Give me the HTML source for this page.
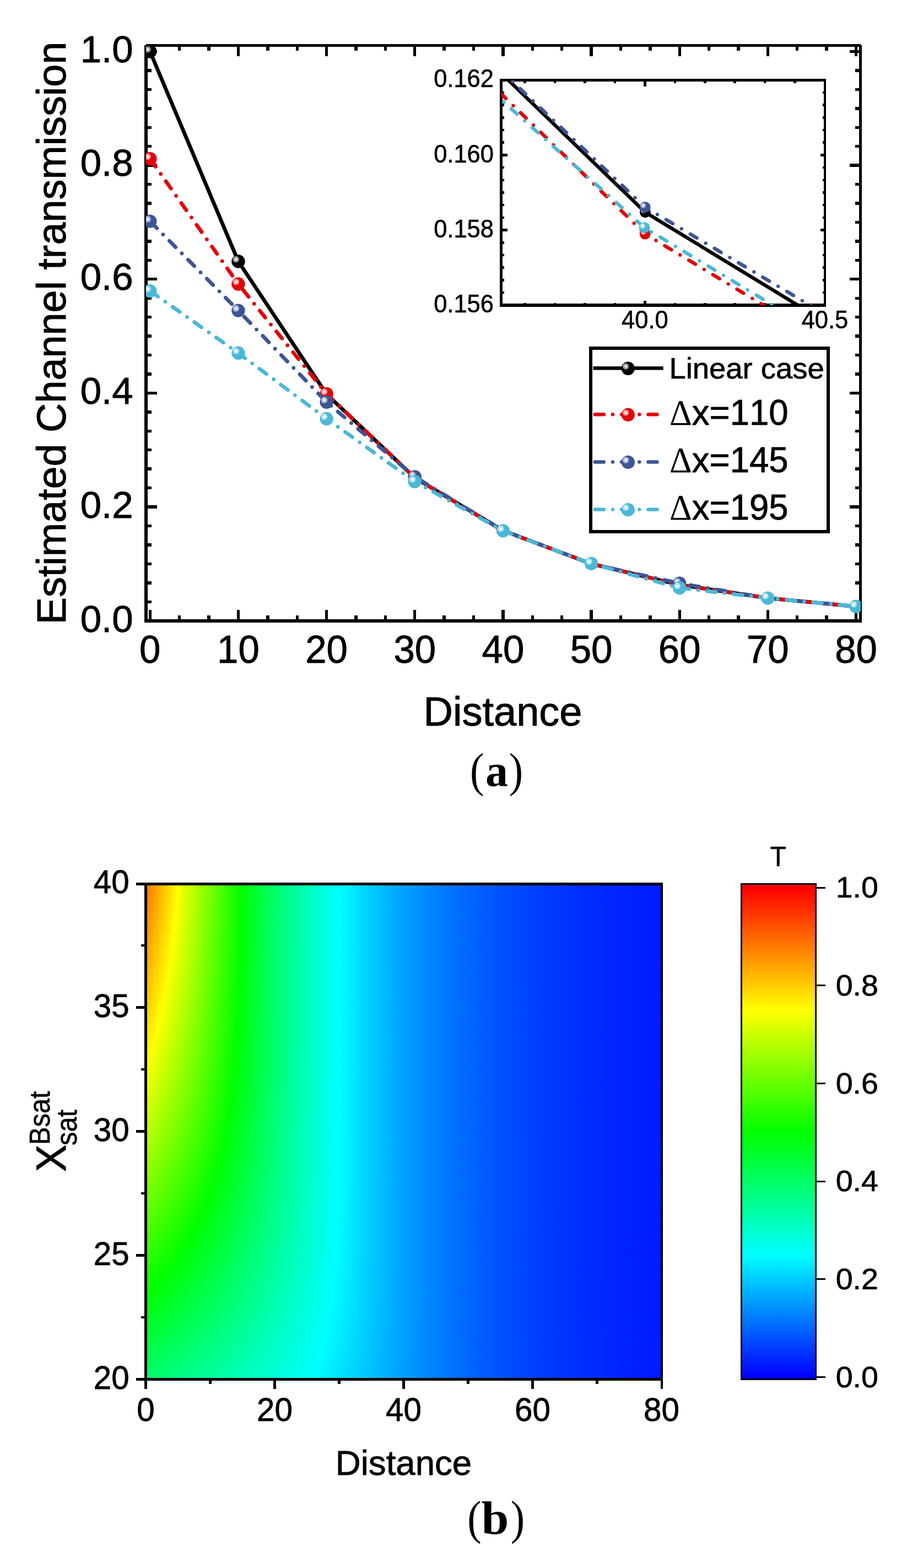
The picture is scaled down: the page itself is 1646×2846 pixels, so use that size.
<!DOCTYPE html>
<html lang="en">
<head>
<meta charset="utf-8">
<title>Estimated channel transmission</title>
<style>
html,body{margin:0;padding:0;background:#fff;}
body{width:1646px;height:2846px;overflow:hidden;}
svg{display:block;font-kerning:none;}
text{fill:#000;}
</style>
</head>
<body>
<svg width="1646" height="2846" viewBox="0 0 1646 2846">
<rect x="0" y="0" width="1646" height="2846" fill="#fff"/>
<defs>
<radialGradient id="hl0" cx="0.5" cy="0.5" r="0.5">
<stop offset="0" stop-color="#fff"/><stop offset="0.22" stop-color="#fff"/>
<stop offset="0.52" stop-color="#9e9e9e"/>
<stop offset="1" stop-color="#8f8f8f"/>
</radialGradient>
<g id="mk0"><circle r="12.2" fill="#000000"/><circle cx="-4.2" cy="-3.8" r="5.8" fill="url(#hl0)"/></g>
<g id="ms0"><circle r="10" fill="#000000"/><circle cx="-3.44" cy="-3.11" r="4.75" fill="url(#hl0)"/></g>
<radialGradient id="hl1" cx="0.5" cy="0.5" r="0.5">
<stop offset="0" stop-color="#fff"/><stop offset="0.22" stop-color="#fff"/>
<stop offset="0.52" stop-color="#f49ea1"/>
<stop offset="1" stop-color="#f38f92"/>
</radialGradient>
<g id="mk1"><circle r="12.2" fill="#e30008"/><circle cx="-4.2" cy="-3.8" r="5.8" fill="url(#hl1)"/></g>
<g id="ms1"><circle r="10" fill="#e30008"/><circle cx="-3.44" cy="-3.11" r="4.75" fill="url(#hl1)"/></g>
<radialGradient id="hl2" cx="0.5" cy="0.5" r="0.5">
<stop offset="0" stop-color="#fff"/><stop offset="0.22" stop-color="#fff"/>
<stop offset="0.52" stop-color="#b6bed7"/>
<stop offset="1" stop-color="#aab4d0"/>
</radialGradient>
<g id="mk2"><circle r="12.2" fill="#3e5595"/><circle cx="-4.2" cy="-3.8" r="5.8" fill="url(#hl2)"/></g>
<g id="ms2"><circle r="10" fill="#3e5595"/><circle cx="-3.44" cy="-3.11" r="4.75" fill="url(#hl2)"/></g>
<radialGradient id="hl3" cx="0.5" cy="0.5" r="0.5">
<stop offset="0" stop-color="#fff"/><stop offset="0.22" stop-color="#fff"/>
<stop offset="0.52" stop-color="#bbe4ef"/>
<stop offset="1" stop-color="#b0e0ed"/>
</radialGradient>
<g id="mk3"><circle r="12.2" fill="#4bb8d6"/><circle cx="-4.2" cy="-3.8" r="5.8" fill="url(#hl3)"/></g>
<g id="ms3"><circle r="10" fill="#4bb8d6"/><circle cx="-3.44" cy="-3.11" r="4.75" fill="url(#hl3)"/></g>
<clipPath id="clipA"><rect x="264.8" y="82.5" width="1297.2" height="1044.5"/></clipPath>
<clipPath id="clipI"><rect x="909.5" y="145.5" width="587.5" height="408.5"/></clipPath>
</defs>
<g id="plot-a">
<g id="axes-a" shape-rendering="crispEdges">
<rect x="262" y="82" width="6" height="1048" fill="#000"/>
<rect x="1559" y="82" width="5" height="1048" fill="#000"/>
<rect x="264.5" y="80" width="1297" height="5" fill="#000"/>
<rect x="264.5" y="1124" width="1297" height="6" fill="#000"/>
<rect x="269.6" y="1106.8" width="5.4" height="18.2" fill="#000"/>
<rect x="269.6" y="84" width="5.4" height="18.2" fill="#000"/>
<rect x="322.98" y="1117" width="5.4" height="8" fill="#000"/>
<rect x="322.98" y="84" width="5.4" height="8" fill="#000"/>
<rect x="376.37" y="1117" width="5.4" height="8" fill="#000"/>
<rect x="376.37" y="84" width="5.4" height="8" fill="#000"/>
<rect x="429.75" y="1106.8" width="5.4" height="18.2" fill="#000"/>
<rect x="429.75" y="84" width="5.4" height="18.2" fill="#000"/>
<rect x="483.13" y="1117" width="5.4" height="8" fill="#000"/>
<rect x="483.13" y="84" width="5.4" height="8" fill="#000"/>
<rect x="536.52" y="1117" width="5.4" height="8" fill="#000"/>
<rect x="536.52" y="84" width="5.4" height="8" fill="#000"/>
<rect x="589.9" y="1106.8" width="5.4" height="18.2" fill="#000"/>
<rect x="589.9" y="84" width="5.4" height="18.2" fill="#000"/>
<rect x="643.28" y="1117" width="5.4" height="8" fill="#000"/>
<rect x="643.28" y="84" width="5.4" height="8" fill="#000"/>
<rect x="696.67" y="1117" width="5.4" height="8" fill="#000"/>
<rect x="696.67" y="84" width="5.4" height="8" fill="#000"/>
<rect x="750.05" y="1106.8" width="5.4" height="18.2" fill="#000"/>
<rect x="750.05" y="84" width="5.4" height="18.2" fill="#000"/>
<rect x="803.43" y="1117" width="5.4" height="8" fill="#000"/>
<rect x="803.43" y="84" width="5.4" height="8" fill="#000"/>
<rect x="856.82" y="1117" width="5.4" height="8" fill="#000"/>
<rect x="856.82" y="84" width="5.4" height="8" fill="#000"/>
<rect x="910.2" y="1106.8" width="5.4" height="18.2" fill="#000"/>
<rect x="910.2" y="84" width="5.4" height="18.2" fill="#000"/>
<rect x="963.58" y="1117" width="5.4" height="8" fill="#000"/>
<rect x="963.58" y="84" width="5.4" height="8" fill="#000"/>
<rect x="1016.97" y="1117" width="5.4" height="8" fill="#000"/>
<rect x="1016.97" y="84" width="5.4" height="8" fill="#000"/>
<rect x="1070.35" y="1106.8" width="5.4" height="18.2" fill="#000"/>
<rect x="1070.35" y="84" width="5.4" height="18.2" fill="#000"/>
<rect x="1123.73" y="1117" width="5.4" height="8" fill="#000"/>
<rect x="1123.73" y="84" width="5.4" height="8" fill="#000"/>
<rect x="1177.12" y="1117" width="5.4" height="8" fill="#000"/>
<rect x="1177.12" y="84" width="5.4" height="8" fill="#000"/>
<rect x="1230.5" y="1106.8" width="5.4" height="18.2" fill="#000"/>
<rect x="1230.5" y="84" width="5.4" height="18.2" fill="#000"/>
<rect x="1283.88" y="1117" width="5.4" height="8" fill="#000"/>
<rect x="1283.88" y="84" width="5.4" height="8" fill="#000"/>
<rect x="1337.27" y="1117" width="5.4" height="8" fill="#000"/>
<rect x="1337.27" y="84" width="5.4" height="8" fill="#000"/>
<rect x="1390.65" y="1106.8" width="5.4" height="18.2" fill="#000"/>
<rect x="1390.65" y="84" width="5.4" height="18.2" fill="#000"/>
<rect x="1444.03" y="1117" width="5.4" height="8" fill="#000"/>
<rect x="1444.03" y="84" width="5.4" height="8" fill="#000"/>
<rect x="1497.42" y="1117" width="5.4" height="8" fill="#000"/>
<rect x="1497.42" y="84" width="5.4" height="8" fill="#000"/>
<rect x="1550.8" y="1106.8" width="5.4" height="18.2" fill="#000"/>
<rect x="1550.8" y="84" width="5.4" height="18.2" fill="#000"/>
<rect x="267" y="1089.56" width="8" height="5.4" fill="#000"/>
<rect x="1552" y="1089.56" width="8" height="5.4" fill="#000"/>
<rect x="267" y="1055.12" width="8" height="5.4" fill="#000"/>
<rect x="1552" y="1055.12" width="8" height="5.4" fill="#000"/>
<rect x="267" y="1020.68" width="8" height="5.4" fill="#000"/>
<rect x="1552" y="1020.68" width="8" height="5.4" fill="#000"/>
<rect x="267" y="986.24" width="8" height="5.4" fill="#000"/>
<rect x="1552" y="986.24" width="8" height="5.4" fill="#000"/>
<rect x="267" y="951.8" width="8" height="5.4" fill="#000"/>
<rect x="1552" y="951.8" width="8" height="5.4" fill="#000"/>
<rect x="267" y="917.36" width="18.2" height="5.4" fill="#000"/>
<rect x="1541.8" y="917.36" width="18.2" height="5.4" fill="#000"/>
<rect x="267" y="882.92" width="8" height="5.4" fill="#000"/>
<rect x="1552" y="882.92" width="8" height="5.4" fill="#000"/>
<rect x="267" y="848.48" width="8" height="5.4" fill="#000"/>
<rect x="1552" y="848.48" width="8" height="5.4" fill="#000"/>
<rect x="267" y="814.04" width="8" height="5.4" fill="#000"/>
<rect x="1552" y="814.04" width="8" height="5.4" fill="#000"/>
<rect x="267" y="779.6" width="8" height="5.4" fill="#000"/>
<rect x="1552" y="779.6" width="8" height="5.4" fill="#000"/>
<rect x="267" y="745.16" width="8" height="5.4" fill="#000"/>
<rect x="1552" y="745.16" width="8" height="5.4" fill="#000"/>
<rect x="267" y="710.72" width="18.2" height="5.4" fill="#000"/>
<rect x="1541.8" y="710.72" width="18.2" height="5.4" fill="#000"/>
<rect x="267" y="676.28" width="8" height="5.4" fill="#000"/>
<rect x="1552" y="676.28" width="8" height="5.4" fill="#000"/>
<rect x="267" y="641.84" width="8" height="5.4" fill="#000"/>
<rect x="1552" y="641.84" width="8" height="5.4" fill="#000"/>
<rect x="267" y="607.4" width="8" height="5.4" fill="#000"/>
<rect x="1552" y="607.4" width="8" height="5.4" fill="#000"/>
<rect x="267" y="572.96" width="8" height="5.4" fill="#000"/>
<rect x="1552" y="572.96" width="8" height="5.4" fill="#000"/>
<rect x="267" y="538.52" width="8" height="5.4" fill="#000"/>
<rect x="1552" y="538.52" width="8" height="5.4" fill="#000"/>
<rect x="267" y="504.08" width="18.2" height="5.4" fill="#000"/>
<rect x="1541.8" y="504.08" width="18.2" height="5.4" fill="#000"/>
<rect x="267" y="469.64" width="8" height="5.4" fill="#000"/>
<rect x="1552" y="469.64" width="8" height="5.4" fill="#000"/>
<rect x="267" y="435.2" width="8" height="5.4" fill="#000"/>
<rect x="1552" y="435.2" width="8" height="5.4" fill="#000"/>
<rect x="267" y="400.76" width="8" height="5.4" fill="#000"/>
<rect x="1552" y="400.76" width="8" height="5.4" fill="#000"/>
<rect x="267" y="366.32" width="8" height="5.4" fill="#000"/>
<rect x="1552" y="366.32" width="8" height="5.4" fill="#000"/>
<rect x="267" y="331.88" width="8" height="5.4" fill="#000"/>
<rect x="1552" y="331.88" width="8" height="5.4" fill="#000"/>
<rect x="267" y="297.44" width="18.2" height="5.4" fill="#000"/>
<rect x="1541.8" y="297.44" width="18.2" height="5.4" fill="#000"/>
<rect x="267" y="263" width="8" height="5.4" fill="#000"/>
<rect x="1552" y="263" width="8" height="5.4" fill="#000"/>
<rect x="267" y="228.56" width="8" height="5.4" fill="#000"/>
<rect x="1552" y="228.56" width="8" height="5.4" fill="#000"/>
<rect x="267" y="194.12" width="8" height="5.4" fill="#000"/>
<rect x="1552" y="194.12" width="8" height="5.4" fill="#000"/>
<rect x="267" y="159.68" width="8" height="5.4" fill="#000"/>
<rect x="1552" y="159.68" width="8" height="5.4" fill="#000"/>
<rect x="267" y="125.24" width="8" height="5.4" fill="#000"/>
<rect x="1552" y="125.24" width="8" height="5.4" fill="#000"/>
<rect x="267" y="90.8" width="18.2" height="5.4" fill="#000"/>
<rect x="1541.8" y="90.8" width="18.2" height="5.4" fill="#000"/>
</g>
<g id="ticklabels-a">
<text x="0" y="0" font-size="69" text-anchor="middle" font-family='"Liberation Sans", sans-serif' transform="translate(272.3 1203.4) scale(1 1.015)" stroke="#000" stroke-width="0.9" stroke-linejoin="round">0</text>
<text x="0" y="0" font-size="69" text-anchor="middle" font-family='"Liberation Sans", sans-serif' transform="translate(432.45 1203.4) scale(1 1.015)" stroke="#000" stroke-width="0.9" stroke-linejoin="round">10</text>
<text x="0" y="0" font-size="69" text-anchor="middle" font-family='"Liberation Sans", sans-serif' transform="translate(592.6 1203.4) scale(1 1.015)" stroke="#000" stroke-width="0.9" stroke-linejoin="round">20</text>
<text x="0" y="0" font-size="69" text-anchor="middle" font-family='"Liberation Sans", sans-serif' transform="translate(752.75 1203.4) scale(1 1.015)" stroke="#000" stroke-width="0.9" stroke-linejoin="round">30</text>
<text x="0" y="0" font-size="69" text-anchor="middle" font-family='"Liberation Sans", sans-serif' transform="translate(912.9 1203.4) scale(1 1.015)" stroke="#000" stroke-width="0.9" stroke-linejoin="round">40</text>
<text x="0" y="0" font-size="69" text-anchor="middle" font-family='"Liberation Sans", sans-serif' transform="translate(1073.05 1203.4) scale(1 1.015)" stroke="#000" stroke-width="0.9" stroke-linejoin="round">50</text>
<text x="0" y="0" font-size="69" text-anchor="middle" font-family='"Liberation Sans", sans-serif' transform="translate(1233.2 1203.4) scale(1 1.015)" stroke="#000" stroke-width="0.9" stroke-linejoin="round">60</text>
<text x="0" y="0" font-size="69" text-anchor="middle" font-family='"Liberation Sans", sans-serif' transform="translate(1393.35 1203.4) scale(1 1.015)" stroke="#000" stroke-width="0.9" stroke-linejoin="round">70</text>
<text x="0" y="0" font-size="69" text-anchor="middle" font-family='"Liberation Sans", sans-serif' transform="translate(1553.5 1203.4) scale(1 1.015)" stroke="#000" stroke-width="0.9" stroke-linejoin="round">80</text>
<text x="0" y="0" font-size="69" text-anchor="end" font-family='"Liberation Sans", sans-serif' transform="translate(241.6 1147.2) scale(1 0.99)" stroke="#000" stroke-width="0.9" stroke-linejoin="round">0.0</text>
<text x="0" y="0" font-size="69" text-anchor="end" font-family='"Liberation Sans", sans-serif' transform="translate(241.6 940.26) scale(1 0.99)" stroke="#000" stroke-width="0.9" stroke-linejoin="round">0.2</text>
<text x="0" y="0" font-size="69" text-anchor="end" font-family='"Liberation Sans", sans-serif' transform="translate(241.6 733.32) scale(1 0.99)" stroke="#000" stroke-width="0.9" stroke-linejoin="round">0.4</text>
<text x="0" y="0" font-size="69" text-anchor="end" font-family='"Liberation Sans", sans-serif' transform="translate(241.6 526.38) scale(1 0.99)" stroke="#000" stroke-width="0.9" stroke-linejoin="round">0.6</text>
<text x="0" y="0" font-size="69" text-anchor="end" font-family='"Liberation Sans", sans-serif' transform="translate(241.6 319.44) scale(1 0.99)" stroke="#000" stroke-width="0.9" stroke-linejoin="round">0.8</text>
<text x="0" y="0" font-size="69" text-anchor="end" font-family='"Liberation Sans", sans-serif' transform="translate(241.6 112.5) scale(1 0.99)" stroke="#000" stroke-width="0.9" stroke-linejoin="round">1.0</text>
</g>
<text x="912.5" y="1317" font-size="74" text-anchor="middle" font-family='"Liberation Sans", sans-serif' stroke="#000" stroke-width="0.96" stroke-linejoin="round">Distance</text>
<text transform="translate(119 604.5) rotate(-90)" font-size="73.75" text-anchor="middle" font-family='"Liberation Sans", sans-serif' stroke="#000" stroke-width="0.96" stroke-linejoin="round">Estimated Channel transmission</text>
<g id="series-a" clip-path="url(#clipA)" fill="none" stroke-linejoin="round">
<polyline points="272.3,93.5 432.45,474.44 592.6,715.38 752.75,867.16 912.9,962.94 1073.05,1023.38 1233.2,1061.51 1393.35,1085.58 1553.5,1100.77" stroke="#000000" stroke-width="6.8"/>
<use href="#mk0" x="272.3" y="93.5"/>
<use href="#mk0" x="432.45" y="474.44"/>
<polyline points="272.3,288.15 432.45,515.56 592.6,714.87 752.75,866.95 912.9,963.56 1073.05,1022.97 1233.2,1061.51 1393.35,1085.58 1553.5,1100.77" stroke="#e30008" stroke-width="6.8" stroke-dasharray="16.1 16.14 0 16.14" stroke-dashoffset="-1.5" stroke-linecap="round"/>
<use href="#mk1" x="272.3" y="288.15"/>
<use href="#mk1" x="432.45" y="515.56"/>
<use href="#mk1" x="592.6" y="714.87"/>
<use href="#mk1" x="752.75" y="866.95"/>
<use href="#mk1" x="1233.2" y="1061.51"/>
<polyline points="272.3,401.6 432.45,563.71 592.6,729.85 752.75,865.4 912.9,962.83 1073.05,1023.38 1233.2,1058.82 1393.35,1085.58 1553.5,1100.77" stroke="#3e5595" stroke-width="6.8" stroke-dasharray="16.1 16.14 0 16.14" stroke-dashoffset="-1.5" stroke-linecap="round"/>
<use href="#mk2" x="272.3" y="401.6"/>
<use href="#mk2" x="432.45" y="563.71"/>
<use href="#mk2" x="592.6" y="729.85"/>
<use href="#mk2" x="752.75" y="865.4"/>
<use href="#mk2" x="1233.2" y="1058.82"/>
<polyline points="272.3,528.17 432.45,640.79 592.6,760.02 752.75,874.08 912.9,963.45 1073.05,1022.97 1233.2,1067.19 1393.35,1085.58 1553.5,1100.77" stroke="#4bb8d6" stroke-width="6.8" stroke-dasharray="16.1 16.14 0 16.14" stroke-dashoffset="-1.5" stroke-linecap="round"/>
<use href="#mk3" x="272.3" y="528.17"/>
<use href="#mk3" x="432.45" y="640.79"/>
<use href="#mk3" x="592.6" y="760.02"/>
<use href="#mk3" x="752.75" y="874.08"/>
<use href="#mk3" x="912.9" y="963.45"/>
<use href="#mk3" x="1073.05" y="1022.97"/>
<use href="#mk3" x="1233.2" y="1067.19"/>
<use href="#mk3" x="1393.35" y="1085.58"/>
<use href="#mk3" x="1553.5" y="1100.77"/>
</g>
<g id="inset">
<g shape-rendering="crispEdges">
<rect x="907" y="143" width="5" height="414" fill="#000"/>
<rect x="1495" y="143" width="4" height="414" fill="#000"/>
<rect x="907" y="143" width="592" height="5" fill="#000"/>
<rect x="907" y="551" width="592" height="6" fill="#000"/>
<rect x="950.43" y="550" width="4.5" height="2" fill="#000"/>
<rect x="950.43" y="147" width="4.5" height="4" fill="#000"/>
<rect x="1004.86" y="550" width="4.5" height="2" fill="#000"/>
<rect x="1004.86" y="147" width="4.5" height="4" fill="#000"/>
<rect x="1059.29" y="550" width="4.5" height="2" fill="#000"/>
<rect x="1059.29" y="147" width="4.5" height="4" fill="#000"/>
<rect x="1113.72" y="550" width="4.5" height="2" fill="#000"/>
<rect x="1113.72" y="147" width="4.5" height="4" fill="#000"/>
<rect x="1167.9" y="546" width="5" height="6" fill="#000"/>
<rect x="1167.9" y="147" width="5" height="9.5" fill="#000"/>
<rect x="1222.58" y="550" width="4.5" height="2" fill="#000"/>
<rect x="1222.58" y="147" width="4.5" height="4" fill="#000"/>
<rect x="1277.01" y="550" width="4.5" height="2" fill="#000"/>
<rect x="1277.01" y="147" width="4.5" height="4" fill="#000"/>
<rect x="1331.44" y="550" width="4.5" height="2" fill="#000"/>
<rect x="1331.44" y="147" width="4.5" height="4" fill="#000"/>
<rect x="1385.87" y="550" width="4.5" height="2" fill="#000"/>
<rect x="1385.87" y="147" width="4.5" height="4" fill="#000"/>
<rect x="1440.3" y="550" width="4.5" height="2" fill="#000"/>
<rect x="1440.3" y="147" width="4.5" height="4" fill="#000"/>
<rect x="911" y="528.85" width="4" height="4.5" fill="#000"/>
<rect x="1493" y="528.85" width="3" height="4.5" fill="#000"/>
<rect x="911" y="506.15" width="4" height="4.5" fill="#000"/>
<rect x="1493" y="506.15" width="3" height="4.5" fill="#000"/>
<rect x="911" y="483.45" width="4" height="4.5" fill="#000"/>
<rect x="1493" y="483.45" width="3" height="4.5" fill="#000"/>
<rect x="911" y="460.75" width="4" height="4.5" fill="#000"/>
<rect x="1493" y="460.75" width="3" height="4.5" fill="#000"/>
<rect x="911" y="438.05" width="4" height="4.5" fill="#000"/>
<rect x="1493" y="438.05" width="3" height="4.5" fill="#000"/>
<rect x="911" y="415.1" width="10.4" height="5" fill="#000"/>
<rect x="1489" y="415.1" width="7" height="5" fill="#000"/>
<rect x="911" y="392.65" width="4" height="4.5" fill="#000"/>
<rect x="1493" y="392.65" width="3" height="4.5" fill="#000"/>
<rect x="911" y="369.95" width="4" height="4.5" fill="#000"/>
<rect x="1493" y="369.95" width="3" height="4.5" fill="#000"/>
<rect x="911" y="347.25" width="4" height="4.5" fill="#000"/>
<rect x="1493" y="347.25" width="3" height="4.5" fill="#000"/>
<rect x="911" y="324.55" width="4" height="4.5" fill="#000"/>
<rect x="1493" y="324.55" width="3" height="4.5" fill="#000"/>
<rect x="911" y="301.85" width="4" height="4.5" fill="#000"/>
<rect x="1493" y="301.85" width="3" height="4.5" fill="#000"/>
<rect x="911" y="278.9" width="10.4" height="5" fill="#000"/>
<rect x="1489" y="278.9" width="7" height="5" fill="#000"/>
<rect x="911" y="256.45" width="4" height="4.5" fill="#000"/>
<rect x="1493" y="256.45" width="3" height="4.5" fill="#000"/>
<rect x="911" y="233.75" width="4" height="4.5" fill="#000"/>
<rect x="1493" y="233.75" width="3" height="4.5" fill="#000"/>
<rect x="911" y="211.05" width="4" height="4.5" fill="#000"/>
<rect x="1493" y="211.05" width="3" height="4.5" fill="#000"/>
<rect x="911" y="188.35" width="4" height="4.5" fill="#000"/>
<rect x="1493" y="188.35" width="3" height="4.5" fill="#000"/>
<rect x="911" y="165.65" width="4" height="4.5" fill="#000"/>
<rect x="1493" y="165.65" width="3" height="4.5" fill="#000"/>
</g>
<text x="0" y="0" font-size="43.5" text-anchor="end" font-family='"Liberation Sans", sans-serif' transform="translate(896 567.3) scale(1 1.07)" stroke="#000" stroke-width="0.57" stroke-linejoin="round">0.156</text>
<text x="0" y="0" font-size="43.5" text-anchor="end" font-family='"Liberation Sans", sans-serif' transform="translate(896 431.4) scale(1 1.07)" stroke="#000" stroke-width="0.57" stroke-linejoin="round">0.158</text>
<text x="0" y="0" font-size="43.5" text-anchor="end" font-family='"Liberation Sans", sans-serif' transform="translate(896 295.4) scale(1 1.07)" stroke="#000" stroke-width="0.57" stroke-linejoin="round">0.160</text>
<text x="0" y="0" font-size="43.5" text-anchor="end" font-family='"Liberation Sans", sans-serif' transform="translate(896 157.7) scale(1 1.07)" stroke="#000" stroke-width="0.57" stroke-linejoin="round">0.162</text>
<text x="0" y="0" font-size="43.5" text-anchor="middle" font-family='"Liberation Sans", sans-serif' transform="translate(1170.4 596) scale(1 1.07)" stroke="#000" stroke-width="0.57" stroke-linejoin="round">40.0</text>
<text x="0" y="0" font-size="43.5" text-anchor="middle" font-family='"Liberation Sans", sans-serif' transform="translate(1496.98 596) scale(1 1.07)" stroke="#000" stroke-width="0.57" stroke-linejoin="round">40.5</text>
<g clip-path="url(#clipI)" fill="none" stroke-linejoin="round">
<polyline points="770.9,-0.98 1170.9,385.3 1670.9,689.8" stroke="#000000" stroke-width="6.4"/>
<use href="#ms0" x="1170.9" y="385.3"/>
<polyline points="770.7,35.4 1170.7,424.6 1670.7,725.4" stroke="#e30008" stroke-width="6.4" stroke-dasharray="14 18.5 0 18.5" stroke-dashoffset="12.3" stroke-linecap="round"/>
<use href="#ms1" x="1170.7" y="424.6"/>
<polyline points="770.7,-3.2 1170.7,376 1670.7,673.5" stroke="#3e5595" stroke-width="6.4" stroke-dasharray="14 18.5 0 18.5" stroke-dashoffset="16.43" stroke-linecap="round"/>
<use href="#ms2" x="1170.7" y="376"/>
<polyline points="769.6,56.52 1169.6,413.2 1669.6,715.2" stroke="#4bb8d6" stroke-width="6.4" stroke-dasharray="14 18.5 0 18.5" stroke-dashoffset="42.97" stroke-linecap="round"/>
<use href="#ms3" x="1169.6" y="413.2"/>
</g>
</g>
<g id="legend">
<rect x="1072" y="632" width="431.3" height="333" fill="#fff" stroke="#000" stroke-width="6" shape-rendering="crispEdges"/>
<line x1="1076.4" y1="668.3" x2="1203.7" y2="668.3" stroke="#000000" stroke-width="6.5" stroke-linecap="butt"/>
<use href="#mk0" x="1139.8" y="668.8"/>
<line x1="1079.65" y1="752.3" x2="1203.7" y2="752.3" stroke="#e30008" stroke-width="6.5" stroke-dasharray="16.1 16.14 0 16.14" stroke-linecap="round"/>
<use href="#mk1" x="1139.8" y="752.8"/>
<line x1="1079.65" y1="838.4" x2="1203.7" y2="838.4" stroke="#3e5595" stroke-width="6.5" stroke-dasharray="16.1 16.14 0 16.14" stroke-linecap="round"/>
<use href="#mk2" x="1139.8" y="838.9"/>
<line x1="1079.65" y1="924.7" x2="1203.7" y2="924.7" stroke="#4bb8d6" stroke-width="6.5" stroke-dasharray="16.1 16.14 0 16.14" stroke-linecap="round"/>
<use href="#mk3" x="1139.8" y="925.2"/>
<text x="1214.5" y="686.9" font-size="54.4" text-anchor="start" font-family='"Liberation Sans", sans-serif' stroke="#000" stroke-width="0.71" stroke-linejoin="round">Linear case</text>
<text transform="translate(1215 770.6) scale(1 1.016)" font-size="63.5" font-family='"Liberation Sans", sans-serif' stroke="#000" stroke-width="0.83" stroke-linejoin="round"><tspan font-family='"Liberation Serif", serif' font-size="63.5" stroke-width="0">Δ</tspan><tspan dx="0">x=110</tspan></text>
<text transform="translate(1215 856.7) scale(1 1.016)" font-size="63.5" font-family='"Liberation Sans", sans-serif' stroke="#000" stroke-width="0.83" stroke-linejoin="round"><tspan font-family='"Liberation Serif", serif' font-size="63.5" stroke-width="0">Δ</tspan><tspan dx="0">x=145</tspan></text>
<text transform="translate(1215 943) scale(1 1.016)" font-size="63.5" font-family='"Liberation Sans", sans-serif' stroke="#000" stroke-width="0.83" stroke-linejoin="round"><tspan font-family='"Liberation Serif", serif' font-size="63.5" stroke-width="0">Δ</tspan><tspan dx="0">x=195</tspan></text>
</g>
<g class="caption"><text x="0" y="0" font-size="86.5" text-anchor="start" font-family='"Liberation Serif", serif' transform="translate(853 1427) scale(0.88 1)">(</text><text x="901.5" y="1427" font-size="81.7" text-anchor="middle" font-family='"Liberation Serif", serif' font-weight="bold">a</text><text x="0" y="0" font-size="86.5" text-anchor="end" font-family='"Liberation Serif", serif' transform="translate(949 1427) scale(0.88 1)">)</text></g>
</g>
<g id="plot-b">
<defs>
<linearGradient id="g0" gradientUnits="userSpaceOnUse" x1="264" x2="1201"><stop offset="0" stop-color="#ff7100"/><stop offset="0.062" stop-color="#fffe00"/><stop offset="0.0726" stop-color="#e9ff00"/><stop offset="0.1197" stop-color="#83ff00"/><stop offset="0.1656" stop-color="#27ff00"/><stop offset="0.187" stop-color="#00ff01"/><stop offset="0.2276" stop-color="#00ff46"/><stop offset="0.2714" stop-color="#00ff87"/><stop offset="0.3173" stop-color="#00ffc1"/><stop offset="0.36" stop-color="#00ffef"/><stop offset="0.3771" stop-color="#00feff"/><stop offset="0.4284" stop-color="#00d2ff"/><stop offset="0.4872" stop-color="#00a9ff"/><stop offset="0.5524" stop-color="#0085ff"/><stop offset="0.6197" stop-color="#0068ff"/><stop offset="0.6912" stop-color="#0050ff"/><stop offset="0.7778" stop-color="#003aff"/><stop offset="0.8803" stop-color="#0028ff"/><stop offset="0.9979" stop-color="#001aff"/><stop offset="1" stop-color="#001aff"/></linearGradient>
<linearGradient id="g1" gradientUnits="userSpaceOnUse" x1="264" x2="1201"><stop offset="0" stop-color="#ff7300"/><stop offset="0.062" stop-color="#ff0"/><stop offset="0.1186" stop-color="#85ff00"/><stop offset="0.1613" stop-color="#2fff00"/><stop offset="0.187" stop-color="#00ff01"/><stop offset="0.2276" stop-color="#00ff46"/><stop offset="0.2714" stop-color="#00ff87"/><stop offset="0.3173" stop-color="#00ffc1"/><stop offset="0.36" stop-color="#00ffef"/><stop offset="0.3771" stop-color="#00feff"/><stop offset="0.4284" stop-color="#00d2ff"/><stop offset="0.4872" stop-color="#00a9ff"/><stop offset="0.5524" stop-color="#0085ff"/><stop offset="0.6197" stop-color="#0068ff"/><stop offset="0.6912" stop-color="#0050ff"/><stop offset="0.7778" stop-color="#003aff"/><stop offset="0.8803" stop-color="#0028ff"/><stop offset="0.9979" stop-color="#001aff"/><stop offset="1" stop-color="#001aff"/></linearGradient>
<linearGradient id="g2" gradientUnits="userSpaceOnUse" x1="264" x2="1201"><stop offset="0" stop-color="#ff7500"/><stop offset="0.062" stop-color="#feff00"/><stop offset="0.1197" stop-color="#82ff00"/><stop offset="0.1624" stop-color="#2dff00"/><stop offset="0.187" stop-color="#00ff01"/><stop offset="0.2276" stop-color="#00ff46"/><stop offset="0.2714" stop-color="#00ff87"/><stop offset="0.3173" stop-color="#00ffc1"/><stop offset="0.36" stop-color="#00ffef"/><stop offset="0.3771" stop-color="#00feff"/><stop offset="0.4284" stop-color="#00d2ff"/><stop offset="0.4872" stop-color="#00a9ff"/><stop offset="0.5524" stop-color="#0085ff"/><stop offset="0.6197" stop-color="#0068ff"/><stop offset="0.6912" stop-color="#0050ff"/><stop offset="0.7778" stop-color="#003aff"/><stop offset="0.8803" stop-color="#0028ff"/><stop offset="0.9979" stop-color="#001aff"/><stop offset="1" stop-color="#001aff"/></linearGradient>
<linearGradient id="g3" gradientUnits="userSpaceOnUse" x1="264" x2="1201"><stop offset="0" stop-color="#f70"/><stop offset="0.0609" stop-color="#ff0"/><stop offset="0.1229" stop-color="#7bff00"/><stop offset="0.172" stop-color="#1aff00"/><stop offset="0.187" stop-color="#00ff01"/><stop offset="0.2276" stop-color="#00ff46"/><stop offset="0.2714" stop-color="#00ff87"/><stop offset="0.3173" stop-color="#00ffc1"/><stop offset="0.36" stop-color="#00ffef"/><stop offset="0.3771" stop-color="#00feff"/><stop offset="0.4284" stop-color="#00d2ff"/><stop offset="0.4872" stop-color="#00a9ff"/><stop offset="0.5524" stop-color="#0085ff"/><stop offset="0.6197" stop-color="#0068ff"/><stop offset="0.6912" stop-color="#0050ff"/><stop offset="0.7778" stop-color="#003aff"/><stop offset="0.8803" stop-color="#0028ff"/><stop offset="0.9979" stop-color="#001aff"/><stop offset="1" stop-color="#001aff"/></linearGradient>
<linearGradient id="g4" gradientUnits="userSpaceOnUse" x1="264" x2="1201"><stop offset="0" stop-color="#ff7900"/><stop offset="0.0609" stop-color="#feff00"/><stop offset="0.1207" stop-color="#7fff00"/><stop offset="0.1656" stop-color="#26ff00"/><stop offset="0.187" stop-color="#00ff01"/><stop offset="0.2244" stop-color="#00ff41"/><stop offset="0.2671" stop-color="#00ff81"/><stop offset="0.3098" stop-color="#00ffb8"/><stop offset="0.3494" stop-color="#00ffe4"/><stop offset="0.3771" stop-color="#00feff"/><stop offset="0.4284" stop-color="#00d2ff"/><stop offset="0.4872" stop-color="#00a9ff"/><stop offset="0.5524" stop-color="#0085ff"/><stop offset="0.6197" stop-color="#0068ff"/><stop offset="0.6912" stop-color="#0050ff"/><stop offset="0.7778" stop-color="#003aff"/><stop offset="0.8803" stop-color="#0028ff"/><stop offset="0.9979" stop-color="#001aff"/><stop offset="1" stop-color="#001aff"/></linearGradient>
<linearGradient id="g5" gradientUnits="userSpaceOnUse" x1="264" x2="1201"><stop offset="0" stop-color="#ff7b00"/><stop offset="0.0598" stop-color="#ff0"/><stop offset="0.1282" stop-color="#6fff00"/><stop offset="0.1731" stop-color="#18ff00"/><stop offset="0.1859" stop-color="#01ff00"/><stop offset="0.2318" stop-color="#00ff4d"/><stop offset="0.2767" stop-color="#00ff8e"/><stop offset="0.3216" stop-color="#00ffc6"/><stop offset="0.3729" stop-color="#00fffc"/><stop offset="0.3793" stop-color="#00fcff"/><stop offset="0.4284" stop-color="#00d2ff"/><stop offset="0.4872" stop-color="#00a9ff"/><stop offset="0.5524" stop-color="#0085ff"/><stop offset="0.6197" stop-color="#0068ff"/><stop offset="0.6912" stop-color="#0050ff"/><stop offset="0.7778" stop-color="#003aff"/><stop offset="0.8803" stop-color="#0028ff"/><stop offset="0.9979" stop-color="#001aff"/><stop offset="1" stop-color="#001aff"/></linearGradient>
<linearGradient id="g6" gradientUnits="userSpaceOnUse" x1="264" x2="1201"><stop offset="0" stop-color="#ff7d00"/><stop offset="0.0598" stop-color="#feff00"/><stop offset="0.125" stop-color="#75ff00"/><stop offset="0.1677" stop-color="#2f0"/><stop offset="0.1859" stop-color="#0f0"/><stop offset="0.2318" stop-color="#00ff4d"/><stop offset="0.2767" stop-color="#00ff8e"/><stop offset="0.3216" stop-color="#00ffc6"/><stop offset="0.3729" stop-color="#00fffc"/><stop offset="0.3793" stop-color="#00fcff"/><stop offset="0.4284" stop-color="#00d2ff"/><stop offset="0.4872" stop-color="#00a9ff"/><stop offset="0.5524" stop-color="#0085ff"/><stop offset="0.6197" stop-color="#0068ff"/><stop offset="0.6912" stop-color="#0050ff"/><stop offset="0.7778" stop-color="#003aff"/><stop offset="0.8803" stop-color="#0028ff"/><stop offset="0.9979" stop-color="#001aff"/><stop offset="1" stop-color="#001aff"/></linearGradient>
<linearGradient id="g7" gradientUnits="userSpaceOnUse" x1="264" x2="1201"><stop offset="0" stop-color="#ff7f00"/><stop offset="0.0588" stop-color="#ff0"/><stop offset="0.1218" stop-color="#7bff00"/><stop offset="0.1731" stop-color="#17ff00"/><stop offset="0.1859" stop-color="#0f0"/><stop offset="0.2286" stop-color="#00ff48"/><stop offset="0.2714" stop-color="#00ff87"/><stop offset="0.3173" stop-color="#00ffc1"/><stop offset="0.36" stop-color="#00ffef"/><stop offset="0.3771" stop-color="#00feff"/><stop offset="0.4284" stop-color="#00d2ff"/><stop offset="0.4872" stop-color="#00a9ff"/><stop offset="0.5524" stop-color="#0085ff"/><stop offset="0.6197" stop-color="#0068ff"/><stop offset="0.6912" stop-color="#0050ff"/><stop offset="0.7778" stop-color="#003aff"/><stop offset="0.8803" stop-color="#0028ff"/><stop offset="0.9979" stop-color="#001aff"/><stop offset="1" stop-color="#001aff"/></linearGradient>
<linearGradient id="g8" gradientUnits="userSpaceOnUse" x1="264" x2="1201"><stop offset="0" stop-color="#ff8100"/><stop offset="0.0588" stop-color="#feff00"/><stop offset="0.1239" stop-color="#76ff00"/><stop offset="0.1752" stop-color="#13ff00"/><stop offset="0.1859" stop-color="#0f0"/><stop offset="0.2286" stop-color="#00ff48"/><stop offset="0.2714" stop-color="#00ff87"/><stop offset="0.3173" stop-color="#00ffc1"/><stop offset="0.36" stop-color="#00ffef"/><stop offset="0.3771" stop-color="#00feff"/><stop offset="0.4284" stop-color="#00d2ff"/><stop offset="0.4872" stop-color="#00a9ff"/><stop offset="0.5524" stop-color="#0085ff"/><stop offset="0.6197" stop-color="#0068ff"/><stop offset="0.6912" stop-color="#0050ff"/><stop offset="0.7778" stop-color="#003aff"/><stop offset="0.8803" stop-color="#0028ff"/><stop offset="0.9979" stop-color="#001aff"/><stop offset="1" stop-color="#001aff"/></linearGradient>
<linearGradient id="g9" gradientUnits="userSpaceOnUse" x1="264" x2="1201"><stop offset="0" stop-color="#ff8400"/><stop offset="0.0577" stop-color="#ff0"/><stop offset="0.1207" stop-color="#7cff00"/><stop offset="0.1656" stop-color="#25ff00"/><stop offset="0.1859" stop-color="#0f0"/><stop offset="0.2254" stop-color="#00ff43"/><stop offset="0.265" stop-color="#00ff7e"/><stop offset="0.3056" stop-color="#00ffb3"/><stop offset="0.3483" stop-color="#00ffe3"/><stop offset="0.3771" stop-color="#00feff"/><stop offset="0.4284" stop-color="#00d2ff"/><stop offset="0.4872" stop-color="#00a9ff"/><stop offset="0.5524" stop-color="#0085ff"/><stop offset="0.6197" stop-color="#0068ff"/><stop offset="0.6912" stop-color="#0050ff"/><stop offset="0.7778" stop-color="#003aff"/><stop offset="0.8803" stop-color="#0028ff"/><stop offset="0.9979" stop-color="#001aff"/><stop offset="1" stop-color="#001aff"/></linearGradient>
<linearGradient id="g10" gradientUnits="userSpaceOnUse" x1="264" x2="1201"><stop offset="0" stop-color="#ff8600"/><stop offset="0.0577" stop-color="#feff00"/><stop offset="0.1175" stop-color="#82ff00"/><stop offset="0.1667" stop-color="#2f0"/><stop offset="0.1859" stop-color="#0f0"/><stop offset="0.2222" stop-color="#00ff3e"/><stop offset="0.2607" stop-color="#00ff78"/><stop offset="0.2991" stop-color="#00ffab"/><stop offset="0.3397" stop-color="#00ffda"/><stop offset="0.3761" stop-color="#0ff"/><stop offset="0.4284" stop-color="#00d2ff"/><stop offset="0.4872" stop-color="#00a9ff"/><stop offset="0.5524" stop-color="#0085ff"/><stop offset="0.6197" stop-color="#0068ff"/><stop offset="0.6912" stop-color="#0050ff"/><stop offset="0.7778" stop-color="#003aff"/><stop offset="0.8803" stop-color="#0028ff"/><stop offset="0.9979" stop-color="#001aff"/><stop offset="1" stop-color="#001aff"/></linearGradient>
<linearGradient id="g11" gradientUnits="userSpaceOnUse" x1="264" x2="1201"><stop offset="0" stop-color="#f80"/><stop offset="0.0566" stop-color="#ff0"/><stop offset="0.1186" stop-color="#7fff00"/><stop offset="0.1699" stop-color="#1cff00"/><stop offset="0.1859" stop-color="#00ff01"/><stop offset="0.2329" stop-color="#00ff4f"/><stop offset="0.2788" stop-color="#00ff91"/><stop offset="0.3226" stop-color="#00ffc7"/><stop offset="0.3632" stop-color="#00fff2"/><stop offset="0.3771" stop-color="#00feff"/><stop offset="0.4284" stop-color="#00d2ff"/><stop offset="0.4872" stop-color="#00a9ff"/><stop offset="0.5524" stop-color="#0085ff"/><stop offset="0.6197" stop-color="#0068ff"/><stop offset="0.6912" stop-color="#0050ff"/><stop offset="0.7778" stop-color="#003aff"/><stop offset="0.8803" stop-color="#0028ff"/><stop offset="0.9979" stop-color="#001aff"/><stop offset="1" stop-color="#001aff"/></linearGradient>
<linearGradient id="g12" gradientUnits="userSpaceOnUse" x1="264" x2="1201"><stop offset="0" stop-color="#ff8a00"/><stop offset="0.0556" stop-color="#fffe00"/><stop offset="0.1239" stop-color="#74ff00"/><stop offset="0.1752" stop-color="#12ff00"/><stop offset="0.1859" stop-color="#00ff01"/><stop offset="0.2265" stop-color="#00ff45"/><stop offset="0.265" stop-color="#00ff7e"/><stop offset="0.3056" stop-color="#00ffb3"/><stop offset="0.3483" stop-color="#00ffe3"/><stop offset="0.3771" stop-color="#00feff"/><stop offset="0.4284" stop-color="#00d2ff"/><stop offset="0.4872" stop-color="#00a9ff"/><stop offset="0.5524" stop-color="#0085ff"/><stop offset="0.6197" stop-color="#0068ff"/><stop offset="0.6912" stop-color="#0050ff"/><stop offset="0.7778" stop-color="#003aff"/><stop offset="0.8803" stop-color="#0028ff"/><stop offset="0.9979" stop-color="#001aff"/><stop offset="1" stop-color="#001aff"/></linearGradient>
<linearGradient id="g13" gradientUnits="userSpaceOnUse" x1="264" x2="1201"><stop offset="0" stop-color="#ff8c00"/><stop offset="0.0556" stop-color="#feff00"/><stop offset="0.1261" stop-color="#6fff00"/><stop offset="0.1688" stop-color="#1eff00"/><stop offset="0.1859" stop-color="#00ff01"/><stop offset="0.2265" stop-color="#00ff45"/><stop offset="0.2671" stop-color="#00ff81"/><stop offset="0.312" stop-color="#0fb"/><stop offset="0.359" stop-color="#0fe"/><stop offset="0.3771" stop-color="#00feff"/><stop offset="0.4284" stop-color="#00d2ff"/><stop offset="0.4872" stop-color="#00a9ff"/><stop offset="0.5524" stop-color="#0085ff"/><stop offset="0.6197" stop-color="#0068ff"/><stop offset="0.6912" stop-color="#0050ff"/><stop offset="0.7778" stop-color="#003aff"/><stop offset="0.8803" stop-color="#0028ff"/><stop offset="0.9979" stop-color="#001aff"/><stop offset="1" stop-color="#001aff"/></linearGradient>
<linearGradient id="g14" gradientUnits="userSpaceOnUse" x1="264" x2="1201"><stop offset="0" stop-color="#ff8f00"/><stop offset="0.0545" stop-color="#ff0"/><stop offset="0.1207" stop-color="#79ff00"/><stop offset="0.1709" stop-color="#19ff00"/><stop offset="0.1859" stop-color="#00ff01"/><stop offset="0.2233" stop-color="#00ff40"/><stop offset="0.2682" stop-color="#00ff83"/><stop offset="0.313" stop-color="#00ffbc"/><stop offset="0.3579" stop-color="#00ffed"/><stop offset="0.3771" stop-color="#00feff"/><stop offset="0.4284" stop-color="#00d2ff"/><stop offset="0.4872" stop-color="#00a9ff"/><stop offset="0.5524" stop-color="#0085ff"/><stop offset="0.6197" stop-color="#0068ff"/><stop offset="0.6912" stop-color="#0050ff"/><stop offset="0.7778" stop-color="#003aff"/><stop offset="0.8803" stop-color="#0028ff"/><stop offset="0.9979" stop-color="#001aff"/><stop offset="1" stop-color="#001aff"/></linearGradient>
<linearGradient id="g15" gradientUnits="userSpaceOnUse" x1="264" x2="1201"><stop offset="0" stop-color="#ff9100"/><stop offset="0.0534" stop-color="#fffe00"/><stop offset="0.1346" stop-color="#5dff00"/><stop offset="0.1848" stop-color="#0f0"/><stop offset="0.2308" stop-color="#00ff4c"/><stop offset="0.2714" stop-color="#00ff87"/><stop offset="0.313" stop-color="#00ffbc"/><stop offset="0.3579" stop-color="#00ffed"/><stop offset="0.3771" stop-color="#00feff"/><stop offset="0.4284" stop-color="#00d2ff"/><stop offset="0.4872" stop-color="#00a9ff"/><stop offset="0.5524" stop-color="#0085ff"/><stop offset="0.6197" stop-color="#0068ff"/><stop offset="0.6912" stop-color="#0050ff"/><stop offset="0.7778" stop-color="#003aff"/><stop offset="0.8803" stop-color="#0028ff"/><stop offset="0.9979" stop-color="#001aff"/><stop offset="1" stop-color="#001aff"/></linearGradient>
<linearGradient id="g16" gradientUnits="userSpaceOnUse" x1="264" x2="1201"><stop offset="0" stop-color="#ff9300"/><stop offset="0.0534" stop-color="#feff00"/><stop offset="0.1282" stop-color="#69ff00"/><stop offset="0.1784" stop-color="#0bff00"/><stop offset="0.1848" stop-color="#0f0"/><stop offset="0.2276" stop-color="#00ff47"/><stop offset="0.2714" stop-color="#00ff87"/><stop offset="0.313" stop-color="#00ffbc"/><stop offset="0.3579" stop-color="#00ffed"/><stop offset="0.3771" stop-color="#00feff"/><stop offset="0.4284" stop-color="#00d2ff"/><stop offset="0.4872" stop-color="#00a9ff"/><stop offset="0.5524" stop-color="#0085ff"/><stop offset="0.6197" stop-color="#0068ff"/><stop offset="0.6912" stop-color="#0050ff"/><stop offset="0.7778" stop-color="#003aff"/><stop offset="0.8803" stop-color="#0028ff"/><stop offset="0.9979" stop-color="#001aff"/><stop offset="1" stop-color="#001aff"/></linearGradient>
<linearGradient id="g17" gradientUnits="userSpaceOnUse" x1="264" x2="1201"><stop offset="0" stop-color="#ff9500"/><stop offset="0.0524" stop-color="#ff0"/><stop offset="0.1293" stop-color="#6f0"/><stop offset="0.1806" stop-color="#07ff00"/><stop offset="0.1848" stop-color="#0f0"/><stop offset="0.2244" stop-color="#00ff42"/><stop offset="0.2682" stop-color="#00ff83"/><stop offset="0.313" stop-color="#00ffbc"/><stop offset="0.3579" stop-color="#00ffed"/><stop offset="0.3771" stop-color="#00feff"/><stop offset="0.4284" stop-color="#00d2ff"/><stop offset="0.4872" stop-color="#00a9ff"/><stop offset="0.5524" stop-color="#0085ff"/><stop offset="0.6197" stop-color="#0068ff"/><stop offset="0.6912" stop-color="#0050ff"/><stop offset="0.7778" stop-color="#003aff"/><stop offset="0.8803" stop-color="#0028ff"/><stop offset="0.9979" stop-color="#001aff"/><stop offset="1" stop-color="#001aff"/></linearGradient>
<linearGradient id="g18" gradientUnits="userSpaceOnUse" x1="264" x2="1201"><stop offset="0" stop-color="#ff9800"/><stop offset="0.0513" stop-color="#ff0"/><stop offset="0.1368" stop-color="#57ff00"/><stop offset="0.1838" stop-color="#01ff00"/><stop offset="0.188" stop-color="#00ff06"/><stop offset="0.2318" stop-color="#00ff4e"/><stop offset="0.2756" stop-color="#00ff8d"/><stop offset="0.3173" stop-color="#00ffc1"/><stop offset="0.359" stop-color="#0fe"/><stop offset="0.3771" stop-color="#00feff"/><stop offset="0.4284" stop-color="#00d2ff"/><stop offset="0.4872" stop-color="#00a9ff"/><stop offset="0.5524" stop-color="#0085ff"/><stop offset="0.6197" stop-color="#0068ff"/><stop offset="0.6912" stop-color="#0050ff"/><stop offset="0.7778" stop-color="#003aff"/><stop offset="0.8803" stop-color="#0028ff"/><stop offset="0.9979" stop-color="#001aff"/><stop offset="1" stop-color="#001aff"/></linearGradient>
<linearGradient id="g19" gradientUnits="userSpaceOnUse" x1="264" x2="1201"><stop offset="0" stop-color="#ff9a00"/><stop offset="0.0513" stop-color="#feff00"/><stop offset="0.1271" stop-color="#69ff00"/><stop offset="0.1774" stop-color="#0cff00"/><stop offset="0.1848" stop-color="#00ff01"/><stop offset="0.2286" stop-color="#00ff49"/><stop offset="0.2735" stop-color="#00ff8a"/><stop offset="0.3162" stop-color="#00ffc0"/><stop offset="0.36" stop-color="#00ffef"/><stop offset="0.3771" stop-color="#00feff"/><stop offset="0.4284" stop-color="#00d2ff"/><stop offset="0.4872" stop-color="#00a9ff"/><stop offset="0.5524" stop-color="#0085ff"/><stop offset="0.6197" stop-color="#0068ff"/><stop offset="0.6912" stop-color="#0050ff"/><stop offset="0.7778" stop-color="#003aff"/><stop offset="0.8803" stop-color="#0028ff"/><stop offset="0.9979" stop-color="#001aff"/><stop offset="1" stop-color="#001aff"/></linearGradient>
<linearGradient id="g20" gradientUnits="userSpaceOnUse" x1="264" x2="1201"><stop offset="0" stop-color="#ff9c00"/><stop offset="0.0502" stop-color="#feff00"/><stop offset="0.1357" stop-color="#58ff00"/><stop offset="0.1806" stop-color="#06ff00"/><stop offset="0.1848" stop-color="#00ff01"/><stop offset="0.2318" stop-color="#00ff4e"/><stop offset="0.2735" stop-color="#00ff8a"/><stop offset="0.313" stop-color="#00ffbc"/><stop offset="0.3579" stop-color="#00ffed"/><stop offset="0.3771" stop-color="#00feff"/><stop offset="0.4284" stop-color="#00d2ff"/><stop offset="0.4872" stop-color="#00a9ff"/><stop offset="0.5524" stop-color="#0085ff"/><stop offset="0.6197" stop-color="#0068ff"/><stop offset="0.6912" stop-color="#0050ff"/><stop offset="0.7778" stop-color="#003aff"/><stop offset="0.8803" stop-color="#0028ff"/><stop offset="0.9979" stop-color="#001aff"/><stop offset="1" stop-color="#001aff"/></linearGradient>
<linearGradient id="g21" gradientUnits="userSpaceOnUse" x1="264" x2="1201"><stop offset="0" stop-color="#ff9f00"/><stop offset="0.0491" stop-color="#ff0"/><stop offset="0.1368" stop-color="#5f0"/><stop offset="0.1838" stop-color="#01ff00"/><stop offset="0.235" stop-color="#00ff53"/><stop offset="0.2863" stop-color="#00ff9b"/><stop offset="0.3269" stop-color="#0fc"/><stop offset="0.3761" stop-color="#0ff"/><stop offset="0.4284" stop-color="#00d2ff"/><stop offset="0.4872" stop-color="#00a9ff"/><stop offset="0.5524" stop-color="#0085ff"/><stop offset="0.6197" stop-color="#0068ff"/><stop offset="0.6912" stop-color="#0050ff"/><stop offset="0.7778" stop-color="#003aff"/><stop offset="0.8803" stop-color="#0028ff"/><stop offset="0.9979" stop-color="#001aff"/><stop offset="1" stop-color="#001aff"/></linearGradient>
<linearGradient id="g22" gradientUnits="userSpaceOnUse" x1="264" x2="1201"><stop offset="0" stop-color="#ffa100"/><stop offset="0.0481" stop-color="#ff0"/><stop offset="0.1293" stop-color="#63ff00"/><stop offset="0.1774" stop-color="#0bff00"/><stop offset="0.1838" stop-color="#0f0"/><stop offset="0.2265" stop-color="#00ff46"/><stop offset="0.2724" stop-color="#00ff89"/><stop offset="0.3173" stop-color="#00ffc1"/><stop offset="0.359" stop-color="#0fe"/><stop offset="0.3771" stop-color="#00feff"/><stop offset="0.4284" stop-color="#00d2ff"/><stop offset="0.4872" stop-color="#00a9ff"/><stop offset="0.5524" stop-color="#0085ff"/><stop offset="0.6197" stop-color="#0068ff"/><stop offset="0.6912" stop-color="#0050ff"/><stop offset="0.7778" stop-color="#003aff"/><stop offset="0.8803" stop-color="#0028ff"/><stop offset="0.9979" stop-color="#001aff"/><stop offset="1" stop-color="#001aff"/></linearGradient>
<linearGradient id="g23" gradientUnits="userSpaceOnUse" x1="264" x2="1201"><stop offset="0" stop-color="#ffa400"/><stop offset="0.0481" stop-color="#feff00"/><stop offset="0.1282" stop-color="#64ff00"/><stop offset="0.1806" stop-color="#05ff00"/><stop offset="0.1848" stop-color="#00ff02"/><stop offset="0.2308" stop-color="#00ff4d"/><stop offset="0.2863" stop-color="#00ff9b"/><stop offset="0.3269" stop-color="#0fc"/><stop offset="0.3761" stop-color="#0ff"/><stop offset="0.4284" stop-color="#00d2ff"/><stop offset="0.4872" stop-color="#00a9ff"/><stop offset="0.5524" stop-color="#0085ff"/><stop offset="0.6197" stop-color="#0068ff"/><stop offset="0.6912" stop-color="#0050ff"/><stop offset="0.7778" stop-color="#003aff"/><stop offset="0.8803" stop-color="#0028ff"/><stop offset="0.9979" stop-color="#001aff"/><stop offset="1" stop-color="#001aff"/></linearGradient>
<linearGradient id="g24" gradientUnits="userSpaceOnUse" x1="264" x2="1201"><stop offset="0" stop-color="#ffa600"/><stop offset="0.047" stop-color="#feff00"/><stop offset="0.1421" stop-color="#49ff00"/><stop offset="0.1838" stop-color="#0f0"/><stop offset="0.2244" stop-color="#00ff43"/><stop offset="0.266" stop-color="#00ff80"/><stop offset="0.3056" stop-color="#00ffb3"/><stop offset="0.3462" stop-color="#00ffe1"/><stop offset="0.3771" stop-color="#00feff"/><stop offset="0.4284" stop-color="#00d2ff"/><stop offset="0.4872" stop-color="#00a9ff"/><stop offset="0.5524" stop-color="#0085ff"/><stop offset="0.6197" stop-color="#0068ff"/><stop offset="0.6912" stop-color="#0050ff"/><stop offset="0.7778" stop-color="#003aff"/><stop offset="0.8803" stop-color="#0028ff"/><stop offset="0.9979" stop-color="#001aff"/><stop offset="1" stop-color="#001aff"/></linearGradient>
<linearGradient id="g25" gradientUnits="userSpaceOnUse" x1="264" x2="1201"><stop offset="0" stop-color="#ffa900"/><stop offset="0.0459" stop-color="#feff00"/><stop offset="0.1346" stop-color="#56ff00"/><stop offset="0.1838" stop-color="#00ff01"/><stop offset="0.2308" stop-color="#00ff4d"/><stop offset="0.2778" stop-color="#00ff90"/><stop offset="0.3216" stop-color="#00ffc6"/><stop offset="0.3622" stop-color="#00fff1"/><stop offset="0.3771" stop-color="#00feff"/><stop offset="0.4284" stop-color="#00d2ff"/><stop offset="0.4872" stop-color="#00a9ff"/><stop offset="0.5524" stop-color="#0085ff"/><stop offset="0.6197" stop-color="#0068ff"/><stop offset="0.6912" stop-color="#0050ff"/><stop offset="0.7778" stop-color="#003aff"/><stop offset="0.8803" stop-color="#0028ff"/><stop offset="0.9979" stop-color="#001aff"/><stop offset="1" stop-color="#001aff"/></linearGradient>
<linearGradient id="g26" gradientUnits="userSpaceOnUse" x1="264" x2="1201"><stop offset="0" stop-color="#ffab00"/><stop offset="0.0449" stop-color="#feff00"/><stop offset="0.1464" stop-color="#40ff00"/><stop offset="0.1838" stop-color="#00ff01"/><stop offset="0.2286" stop-color="#00ff4a"/><stop offset="0.2767" stop-color="#00ff8f"/><stop offset="0.3216" stop-color="#00ffc6"/><stop offset="0.3622" stop-color="#00fff1"/><stop offset="0.3771" stop-color="#00feff"/><stop offset="0.4284" stop-color="#00d2ff"/><stop offset="0.4872" stop-color="#00a9ff"/><stop offset="0.5524" stop-color="#0085ff"/><stop offset="0.6197" stop-color="#0068ff"/><stop offset="0.6912" stop-color="#0050ff"/><stop offset="0.7778" stop-color="#003aff"/><stop offset="0.8803" stop-color="#0028ff"/><stop offset="0.9979" stop-color="#001aff"/><stop offset="1" stop-color="#001aff"/></linearGradient>
<linearGradient id="g27" gradientUnits="userSpaceOnUse" x1="264" x2="1201"><stop offset="0" stop-color="#ffae00"/><stop offset="0.0438" stop-color="#feff00"/><stop offset="0.1421" stop-color="#47ff00"/><stop offset="0.1827" stop-color="#0f0"/><stop offset="0.2286" stop-color="#00ff4a"/><stop offset="0.2724" stop-color="#00ff89"/><stop offset="0.3173" stop-color="#00ffc1"/><stop offset="0.359" stop-color="#0fe"/><stop offset="0.3771" stop-color="#00feff"/><stop offset="0.4284" stop-color="#00d2ff"/><stop offset="0.4872" stop-color="#00a9ff"/><stop offset="0.5524" stop-color="#0085ff"/><stop offset="0.6197" stop-color="#0068ff"/><stop offset="0.6912" stop-color="#0050ff"/><stop offset="0.7778" stop-color="#003aff"/><stop offset="0.8803" stop-color="#0028ff"/><stop offset="0.9979" stop-color="#001aff"/><stop offset="1" stop-color="#001aff"/></linearGradient>
<linearGradient id="g28" gradientUnits="userSpaceOnUse" x1="264" x2="1201"><stop offset="0" stop-color="#ffb000"/><stop offset="0.0427" stop-color="#ff0"/><stop offset="0.1378" stop-color="#4eff00"/><stop offset="0.1827" stop-color="#0f0"/><stop offset="0.2265" stop-color="#00ff47"/><stop offset="0.2724" stop-color="#00ff89"/><stop offset="0.3173" stop-color="#00ffc1"/><stop offset="0.359" stop-color="#0fe"/><stop offset="0.3771" stop-color="#00feff"/><stop offset="0.4284" stop-color="#00d2ff"/><stop offset="0.4872" stop-color="#00a9ff"/><stop offset="0.5524" stop-color="#0085ff"/><stop offset="0.6197" stop-color="#0068ff"/><stop offset="0.6912" stop-color="#0050ff"/><stop offset="0.7778" stop-color="#003aff"/><stop offset="0.8803" stop-color="#0028ff"/><stop offset="0.9979" stop-color="#001aff"/><stop offset="1" stop-color="#001aff"/></linearGradient>
<linearGradient id="g29" gradientUnits="userSpaceOnUse" x1="264" x2="1201"><stop offset="0" stop-color="#ffb300"/><stop offset="0.0417" stop-color="#ff0"/><stop offset="0.1346" stop-color="#53ff00"/><stop offset="0.1827" stop-color="#0f0"/><stop offset="0.2276" stop-color="#00ff49"/><stop offset="0.2853" stop-color="#00ff9a"/><stop offset="0.3312" stop-color="#00ffd1"/><stop offset="0.3761" stop-color="#0ff"/><stop offset="0.4284" stop-color="#00d2ff"/><stop offset="0.4872" stop-color="#00a9ff"/><stop offset="0.5524" stop-color="#0085ff"/><stop offset="0.6197" stop-color="#0068ff"/><stop offset="0.6912" stop-color="#0050ff"/><stop offset="0.7778" stop-color="#003aff"/><stop offset="0.8803" stop-color="#0028ff"/><stop offset="0.9979" stop-color="#001aff"/><stop offset="1" stop-color="#001aff"/></linearGradient>
<linearGradient id="g30" gradientUnits="userSpaceOnUse" x1="264" x2="1201"><stop offset="0" stop-color="#ffb600"/><stop offset="0.0406" stop-color="#ff0"/><stop offset="0.1432" stop-color="#43ff00"/><stop offset="0.1827" stop-color="#00ff01"/><stop offset="0.2308" stop-color="#00ff4e"/><stop offset="0.2799" stop-color="#00ff93"/><stop offset="0.3259" stop-color="#00ffcb"/><stop offset="0.375" stop-color="#00fffe"/><stop offset="0.4338" stop-color="#00ceff"/><stop offset="0.4936" stop-color="#00a5ff"/><stop offset="0.5588" stop-color="#0082ff"/><stop offset="0.625" stop-color="#06f"/><stop offset="0.6976" stop-color="#004eff"/><stop offset="0.7885" stop-color="#0038ff"/><stop offset="0.8868" stop-color="#0027ff"/><stop offset="1" stop-color="#001aff"/></linearGradient>
<linearGradient id="g31" gradientUnits="userSpaceOnUse" x1="264" x2="1201"><stop offset="0" stop-color="#ffb800"/><stop offset="0.0395" stop-color="#ff0"/><stop offset="0.141" stop-color="#46ff00"/><stop offset="0.1816" stop-color="#01ff00"/><stop offset="0.2361" stop-color="#00ff56"/><stop offset="0.2799" stop-color="#00ff93"/><stop offset="0.3216" stop-color="#00ffc6"/><stop offset="0.3622" stop-color="#00fff1"/><stop offset="0.3771" stop-color="#00feff"/><stop offset="0.4284" stop-color="#00d2ff"/><stop offset="0.4872" stop-color="#00a9ff"/><stop offset="0.5524" stop-color="#0085ff"/><stop offset="0.6197" stop-color="#0068ff"/><stop offset="0.6912" stop-color="#0050ff"/><stop offset="0.7778" stop-color="#003aff"/><stop offset="0.8803" stop-color="#0028ff"/><stop offset="0.9979" stop-color="#001aff"/><stop offset="1" stop-color="#001aff"/></linearGradient>
<linearGradient id="g32" gradientUnits="userSpaceOnUse" x1="264" x2="1201"><stop offset="0" stop-color="#fb0"/><stop offset="0.0385" stop-color="#feff00"/><stop offset="0.1549" stop-color="#2dff00"/><stop offset="0.1816" stop-color="#0f0"/><stop offset="0.234" stop-color="#00ff53"/><stop offset="0.2821" stop-color="#00ff96"/><stop offset="0.3269" stop-color="#0fc"/><stop offset="0.3739" stop-color="#00fffd"/><stop offset="0.3825" stop-color="#00f9ff"/><stop offset="0.4338" stop-color="#00ceff"/><stop offset="0.4936" stop-color="#00a5ff"/><stop offset="0.5588" stop-color="#0082ff"/><stop offset="0.625" stop-color="#06f"/><stop offset="0.6976" stop-color="#004eff"/><stop offset="0.7885" stop-color="#0038ff"/><stop offset="0.8868" stop-color="#0027ff"/><stop offset="1" stop-color="#001aff"/></linearGradient>
<linearGradient id="g33" gradientUnits="userSpaceOnUse" x1="264" x2="1201"><stop offset="0" stop-color="#ffbe00"/><stop offset="0.0374" stop-color="#feff00"/><stop offset="0.1517" stop-color="#32ff00"/><stop offset="0.1816" stop-color="#0f0"/><stop offset="0.2265" stop-color="#00ff48"/><stop offset="0.2821" stop-color="#00ff96"/><stop offset="0.3259" stop-color="#00ffcb"/><stop offset="0.375" stop-color="#00fffe"/><stop offset="0.4338" stop-color="#00ceff"/><stop offset="0.4936" stop-color="#00a5ff"/><stop offset="0.5588" stop-color="#0082ff"/><stop offset="0.625" stop-color="#06f"/><stop offset="0.6976" stop-color="#004eff"/><stop offset="0.7885" stop-color="#0038ff"/><stop offset="0.8868" stop-color="#0027ff"/><stop offset="1" stop-color="#001aff"/></linearGradient>
<linearGradient id="g34" gradientUnits="userSpaceOnUse" x1="264" x2="1201"><stop offset="0" stop-color="#ffc000"/><stop offset="0.0363" stop-color="#feff00"/><stop offset="0.1506" stop-color="#3f0"/><stop offset="0.1816" stop-color="#00ff01"/><stop offset="0.2318" stop-color="#00ff50"/><stop offset="0.2821" stop-color="#00ff96"/><stop offset="0.3259" stop-color="#00ffcb"/><stop offset="0.375" stop-color="#00fffe"/><stop offset="0.4338" stop-color="#00ceff"/><stop offset="0.4936" stop-color="#00a5ff"/><stop offset="0.5588" stop-color="#0082ff"/><stop offset="0.625" stop-color="#06f"/><stop offset="0.6976" stop-color="#004eff"/><stop offset="0.7885" stop-color="#0038ff"/><stop offset="0.8868" stop-color="#0027ff"/><stop offset="1" stop-color="#001aff"/></linearGradient>
<linearGradient id="g35" gradientUnits="userSpaceOnUse" x1="264" x2="1201"><stop offset="0" stop-color="#ffc300"/><stop offset="0.0342" stop-color="#fffe00"/><stop offset="0.1603" stop-color="#2f0"/><stop offset="0.1806" stop-color="#0f0"/><stop offset="0.2297" stop-color="#00ff4d"/><stop offset="0.2788" stop-color="#00ff92"/><stop offset="0.3216" stop-color="#00ffc6"/><stop offset="0.3622" stop-color="#00fff1"/><stop offset="0.3771" stop-color="#00feff"/><stop offset="0.4284" stop-color="#00d2ff"/><stop offset="0.4872" stop-color="#00a9ff"/><stop offset="0.5524" stop-color="#0085ff"/><stop offset="0.6197" stop-color="#0068ff"/><stop offset="0.6912" stop-color="#0050ff"/><stop offset="0.7778" stop-color="#003aff"/><stop offset="0.8803" stop-color="#0028ff"/><stop offset="0.9979" stop-color="#001aff"/><stop offset="1" stop-color="#001aff"/></linearGradient>
<linearGradient id="g36" gradientUnits="userSpaceOnUse" x1="264" x2="1201"><stop offset="0" stop-color="#ffc600"/><stop offset="0.0331" stop-color="#ff0"/><stop offset="0.1581" stop-color="#25ff00"/><stop offset="0.1806" stop-color="#0f0"/><stop offset="0.2329" stop-color="#00ff52"/><stop offset="0.2788" stop-color="#00ff92"/><stop offset="0.3216" stop-color="#00ffc6"/><stop offset="0.3622" stop-color="#00fff1"/><stop offset="0.3771" stop-color="#00feff"/><stop offset="0.4284" stop-color="#00d2ff"/><stop offset="0.4872" stop-color="#00a9ff"/><stop offset="0.5524" stop-color="#0085ff"/><stop offset="0.6197" stop-color="#0068ff"/><stop offset="0.6912" stop-color="#0050ff"/><stop offset="0.7778" stop-color="#003aff"/><stop offset="0.8803" stop-color="#0028ff"/><stop offset="0.9979" stop-color="#001aff"/><stop offset="1" stop-color="#001aff"/></linearGradient>
<linearGradient id="g37" gradientUnits="userSpaceOnUse" x1="264" x2="1201"><stop offset="0" stop-color="#ffc900"/><stop offset="0.0321" stop-color="#ff0"/><stop offset="0.1571" stop-color="#26ff00"/><stop offset="0.1806" stop-color="#00ff01"/><stop offset="0.2361" stop-color="#00ff57"/><stop offset="0.2842" stop-color="#0f9"/><stop offset="0.3301" stop-color="#00ffd0"/><stop offset="0.3761" stop-color="#0ff"/><stop offset="0.4284" stop-color="#00d2ff"/><stop offset="0.4872" stop-color="#00a9ff"/><stop offset="0.5524" stop-color="#0085ff"/><stop offset="0.6197" stop-color="#0068ff"/><stop offset="0.6912" stop-color="#0050ff"/><stop offset="0.7778" stop-color="#003aff"/><stop offset="0.8803" stop-color="#0028ff"/><stop offset="0.9979" stop-color="#001aff"/><stop offset="1" stop-color="#001aff"/></linearGradient>
<linearGradient id="g38" gradientUnits="userSpaceOnUse" x1="264" x2="1201"><stop offset="0" stop-color="#ffcb00"/><stop offset="0.031" stop-color="#feff00"/><stop offset="0.1603" stop-color="#20ff00"/><stop offset="0.1806" stop-color="#00ff01"/><stop offset="0.2318" stop-color="#00ff51"/><stop offset="0.281" stop-color="#00ff95"/><stop offset="0.3259" stop-color="#00ffcb"/><stop offset="0.375" stop-color="#00fffe"/><stop offset="0.4348" stop-color="#00cdff"/><stop offset="0.4957" stop-color="#00a4ff"/><stop offset="0.5566" stop-color="#0083ff"/><stop offset="0.625" stop-color="#06f"/><stop offset="0.6976" stop-color="#004eff"/><stop offset="0.7885" stop-color="#0038ff"/><stop offset="0.8868" stop-color="#0027ff"/><stop offset="1" stop-color="#001aff"/></linearGradient>
<linearGradient id="g39" gradientUnits="userSpaceOnUse" x1="264" x2="1201"><stop offset="0" stop-color="#ffce00"/><stop offset="0.0299" stop-color="#feff00"/><stop offset="0.1592" stop-color="#21ff00"/><stop offset="0.1795" stop-color="#0f0"/><stop offset="0.2297" stop-color="#00ff4e"/><stop offset="0.2756" stop-color="#00ff8e"/><stop offset="0.3162" stop-color="#00ffc0"/><stop offset="0.3579" stop-color="#00ffed"/><stop offset="0.3771" stop-color="#00feff"/><stop offset="0.4284" stop-color="#00d2ff"/><stop offset="0.4872" stop-color="#00a9ff"/><stop offset="0.5524" stop-color="#0085ff"/><stop offset="0.6197" stop-color="#0068ff"/><stop offset="0.6912" stop-color="#0050ff"/><stop offset="0.7778" stop-color="#003aff"/><stop offset="0.8803" stop-color="#0028ff"/><stop offset="0.9979" stop-color="#001aff"/><stop offset="1" stop-color="#001aff"/></linearGradient>
<linearGradient id="g40" gradientUnits="userSpaceOnUse" x1="264" x2="1201"><stop offset="0" stop-color="#ffd100"/><stop offset="0.0278" stop-color="#ff0"/><stop offset="0.1624" stop-color="#1bff00"/><stop offset="0.1795" stop-color="#0f0"/><stop offset="0.2254" stop-color="#00ff48"/><stop offset="0.2778" stop-color="#00ff91"/><stop offset="0.3205" stop-color="#00ffc5"/><stop offset="0.3611" stop-color="#00fff0"/><stop offset="0.3771" stop-color="#00feff"/><stop offset="0.4284" stop-color="#00d2ff"/><stop offset="0.4872" stop-color="#00a9ff"/><stop offset="0.5524" stop-color="#0085ff"/><stop offset="0.6197" stop-color="#0068ff"/><stop offset="0.6912" stop-color="#0050ff"/><stop offset="0.7778" stop-color="#003aff"/><stop offset="0.8803" stop-color="#0028ff"/><stop offset="0.9979" stop-color="#001aff"/><stop offset="1" stop-color="#001aff"/></linearGradient>
<linearGradient id="g41" gradientUnits="userSpaceOnUse" x1="264" x2="1201"><stop offset="0" stop-color="#ffd400"/><stop offset="0.0267" stop-color="#feff00"/><stop offset="0.1688" stop-color="#10ff00"/><stop offset="0.1795" stop-color="#00ff01"/><stop offset="0.2308" stop-color="#00ff50"/><stop offset="0.2778" stop-color="#00ff91"/><stop offset="0.3205" stop-color="#00ffc5"/><stop offset="0.3611" stop-color="#00fff0"/><stop offset="0.3771" stop-color="#00feff"/><stop offset="0.4284" stop-color="#00d2ff"/><stop offset="0.4872" stop-color="#00a9ff"/><stop offset="0.5524" stop-color="#0085ff"/><stop offset="0.6197" stop-color="#0068ff"/><stop offset="0.6912" stop-color="#0050ff"/><stop offset="0.7778" stop-color="#003aff"/><stop offset="0.8803" stop-color="#0028ff"/><stop offset="0.9979" stop-color="#001aff"/><stop offset="1" stop-color="#001aff"/></linearGradient>
<linearGradient id="g42" gradientUnits="userSpaceOnUse" x1="264" x2="1201"><stop offset="0" stop-color="#ffd700"/><stop offset="0.0246" stop-color="#ff0"/><stop offset="0.172" stop-color="#0aff00"/><stop offset="0.1784" stop-color="#0f0"/><stop offset="0.234" stop-color="#0f5"/><stop offset="0.2831" stop-color="#00ff98"/><stop offset="0.3259" stop-color="#00ffcb"/><stop offset="0.3729" stop-color="#00fffc"/><stop offset="0.3793" stop-color="#00fcff"/><stop offset="0.4284" stop-color="#00d2ff"/><stop offset="0.4872" stop-color="#00a9ff"/><stop offset="0.5524" stop-color="#0085ff"/><stop offset="0.6197" stop-color="#0068ff"/><stop offset="0.6912" stop-color="#0050ff"/><stop offset="0.7778" stop-color="#003aff"/><stop offset="0.8803" stop-color="#0028ff"/><stop offset="0.9979" stop-color="#001aff"/><stop offset="1" stop-color="#001aff"/></linearGradient>
<linearGradient id="g43" gradientUnits="userSpaceOnUse" x1="264" x2="1201"><stop offset="0" stop-color="#ffda00"/><stop offset="0.0235" stop-color="#ff0"/><stop offset="0.1709" stop-color="#0bff00"/><stop offset="0.1784" stop-color="#0f0"/><stop offset="0.2276" stop-color="#00ff4c"/><stop offset="0.2746" stop-color="#00ff8d"/><stop offset="0.3194" stop-color="#00ffc4"/><stop offset="0.3707" stop-color="#00fffa"/><stop offset="0.3782" stop-color="#00fdff"/><stop offset="0.4284" stop-color="#00d2ff"/><stop offset="0.4872" stop-color="#00a9ff"/><stop offset="0.5524" stop-color="#0085ff"/><stop offset="0.6197" stop-color="#0068ff"/><stop offset="0.6912" stop-color="#0050ff"/><stop offset="0.7778" stop-color="#003aff"/><stop offset="0.8803" stop-color="#0028ff"/><stop offset="0.9979" stop-color="#001aff"/><stop offset="1" stop-color="#001aff"/></linearGradient>
<linearGradient id="g44" gradientUnits="userSpaceOnUse" x1="264" x2="1201"><stop offset="0" stop-color="#fd0"/><stop offset="0.0214" stop-color="#ff0"/><stop offset="0.1763" stop-color="#02ff00"/><stop offset="0.1816" stop-color="#00ff06"/><stop offset="0.2329" stop-color="#00ff54"/><stop offset="0.2799" stop-color="#00ff94"/><stop offset="0.3205" stop-color="#00ffc5"/><stop offset="0.3611" stop-color="#00fff0"/><stop offset="0.3771" stop-color="#00feff"/><stop offset="0.4284" stop-color="#00d2ff"/><stop offset="0.4872" stop-color="#00a9ff"/><stop offset="0.5524" stop-color="#0085ff"/><stop offset="0.6197" stop-color="#0068ff"/><stop offset="0.6912" stop-color="#0050ff"/><stop offset="0.7778" stop-color="#003aff"/><stop offset="0.8803" stop-color="#0028ff"/><stop offset="0.9979" stop-color="#001aff"/><stop offset="1" stop-color="#001aff"/></linearGradient>
<linearGradient id="g45" gradientUnits="userSpaceOnUse" x1="264" x2="1201"><stop offset="0" stop-color="#ffdf00"/><stop offset="0.0203" stop-color="#feff00"/><stop offset="0.1079" stop-color="#70ff00"/><stop offset="0.1774" stop-color="#0f0"/><stop offset="0.2286" stop-color="#00ff4e"/><stop offset="0.2767" stop-color="#00ff90"/><stop offset="0.3237" stop-color="#00ffc9"/><stop offset="0.375" stop-color="#00fffe"/><stop offset="0.4348" stop-color="#00cdff"/><stop offset="0.4957" stop-color="#00a4ff"/><stop offset="0.5566" stop-color="#0083ff"/><stop offset="0.625" stop-color="#06f"/><stop offset="0.6976" stop-color="#004eff"/><stop offset="0.7885" stop-color="#0038ff"/><stop offset="0.8868" stop-color="#0027ff"/><stop offset="1" stop-color="#001aff"/></linearGradient>
<linearGradient id="g46" gradientUnits="userSpaceOnUse" x1="264" x2="1201"><stop offset="0" stop-color="#ffe200"/><stop offset="0.0182" stop-color="#ff0"/><stop offset="0.1218" stop-color="#58ff00"/><stop offset="0.1774" stop-color="#00ff01"/><stop offset="0.2361" stop-color="#00ff59"/><stop offset="0.2853" stop-color="#00ff9b"/><stop offset="0.3301" stop-color="#00ffd0"/><stop offset="0.3761" stop-color="#0ff"/><stop offset="0.4284" stop-color="#00d2ff"/><stop offset="0.4872" stop-color="#00a9ff"/><stop offset="0.5524" stop-color="#0085ff"/><stop offset="0.6197" stop-color="#0068ff"/><stop offset="0.6912" stop-color="#0050ff"/><stop offset="0.7778" stop-color="#003aff"/><stop offset="0.8803" stop-color="#0028ff"/><stop offset="0.9979" stop-color="#001aff"/><stop offset="1" stop-color="#001aff"/></linearGradient>
<linearGradient id="g47" gradientUnits="userSpaceOnUse" x1="264" x2="1201"><stop offset="0" stop-color="#ffe500"/><stop offset="0.0171" stop-color="#feff00"/><stop offset="0.1154" stop-color="#61ff00"/><stop offset="0.1763" stop-color="#0f0"/><stop offset="0.2372" stop-color="#00ff5b"/><stop offset="0.2906" stop-color="#00ffa2"/><stop offset="0.3365" stop-color="#00ffd7"/><stop offset="0.3761" stop-color="#0ff"/><stop offset="0.4284" stop-color="#00d2ff"/><stop offset="0.4872" stop-color="#00a9ff"/><stop offset="0.5524" stop-color="#0085ff"/><stop offset="0.6197" stop-color="#0068ff"/><stop offset="0.6912" stop-color="#0050ff"/><stop offset="0.7778" stop-color="#003aff"/><stop offset="0.8803" stop-color="#0028ff"/><stop offset="0.9979" stop-color="#001aff"/><stop offset="1" stop-color="#001aff"/></linearGradient>
<linearGradient id="g48" gradientUnits="userSpaceOnUse" x1="264" x2="1201"><stop offset="0" stop-color="#ffe800"/><stop offset="0.015" stop-color="#ff0"/><stop offset="0.1763" stop-color="#0f0"/><stop offset="0.2265" stop-color="#00ff4c"/><stop offset="0.2756" stop-color="#00ff8f"/><stop offset="0.3194" stop-color="#00ffc4"/><stop offset="0.36" stop-color="#00ffef"/><stop offset="0.3771" stop-color="#00feff"/><stop offset="0.4284" stop-color="#00d2ff"/><stop offset="0.4872" stop-color="#00a9ff"/><stop offset="0.5524" stop-color="#0085ff"/><stop offset="0.6197" stop-color="#0068ff"/><stop offset="0.6912" stop-color="#0050ff"/><stop offset="0.7778" stop-color="#003aff"/><stop offset="0.8803" stop-color="#0028ff"/><stop offset="0.9979" stop-color="#001aff"/><stop offset="1" stop-color="#001aff"/></linearGradient>
<linearGradient id="g49" gradientUnits="userSpaceOnUse" x1="264" x2="1201"><stop offset="0" stop-color="#ffeb00"/><stop offset="0.0128" stop-color="#ff0"/><stop offset="0.1143" stop-color="#60ff00"/><stop offset="0.1752" stop-color="#0f0"/><stop offset="0.2361" stop-color="#00ff5a"/><stop offset="0.2874" stop-color="#00ff9e"/><stop offset="0.3355" stop-color="#00ffd6"/><stop offset="0.3761" stop-color="#0ff"/><stop offset="0.4284" stop-color="#00d2ff"/><stop offset="0.4872" stop-color="#00a9ff"/><stop offset="0.5524" stop-color="#0085ff"/><stop offset="0.6197" stop-color="#0068ff"/><stop offset="0.6912" stop-color="#0050ff"/><stop offset="0.7778" stop-color="#003aff"/><stop offset="0.8803" stop-color="#0028ff"/><stop offset="0.9979" stop-color="#001aff"/><stop offset="1" stop-color="#001aff"/></linearGradient>
<linearGradient id="g50" gradientUnits="userSpaceOnUse" x1="264" x2="1201"><stop offset="0" stop-color="#ffef00"/><stop offset="0.0118" stop-color="#feff00"/><stop offset="0.109" stop-color="#67ff00"/><stop offset="0.1752" stop-color="#0f0"/><stop offset="0.2329" stop-color="#00ff56"/><stop offset="0.2895" stop-color="#00ffa1"/><stop offset="0.3365" stop-color="#00ffd7"/><stop offset="0.3761" stop-color="#0ff"/><stop offset="0.4284" stop-color="#00d2ff"/><stop offset="0.4872" stop-color="#00a9ff"/><stop offset="0.5524" stop-color="#0085ff"/><stop offset="0.6197" stop-color="#0068ff"/><stop offset="0.6912" stop-color="#0050ff"/><stop offset="0.7778" stop-color="#003aff"/><stop offset="0.8803" stop-color="#0028ff"/><stop offset="0.9979" stop-color="#001aff"/><stop offset="1" stop-color="#001aff"/></linearGradient>
<linearGradient id="g51" gradientUnits="userSpaceOnUse" x1="264" x2="1201"><stop offset="0" stop-color="#fff200"/><stop offset="0.0096" stop-color="#feff00"/><stop offset="0.0972" stop-color="#78ff00"/><stop offset="0.1741" stop-color="#01ff00"/><stop offset="0.2372" stop-color="#00ff5c"/><stop offset="0.2863" stop-color="#00ff9d"/><stop offset="0.3301" stop-color="#00ffd0"/><stop offset="0.3761" stop-color="#0ff"/><stop offset="0.4284" stop-color="#00d2ff"/><stop offset="0.4872" stop-color="#00a9ff"/><stop offset="0.5524" stop-color="#0085ff"/><stop offset="0.6197" stop-color="#0068ff"/><stop offset="0.6912" stop-color="#0050ff"/><stop offset="0.7778" stop-color="#003aff"/><stop offset="0.8803" stop-color="#0028ff"/><stop offset="0.9979" stop-color="#001aff"/><stop offset="1" stop-color="#001aff"/></linearGradient>
<linearGradient id="g52" gradientUnits="userSpaceOnUse" x1="264" x2="1201"><stop offset="0" stop-color="#fff500"/><stop offset="0.0075" stop-color="#feff00"/><stop offset="0.0844" stop-color="#8aff00"/><stop offset="0.1741" stop-color="#0f0"/><stop offset="0.2318" stop-color="#0f5"/><stop offset="0.2831" stop-color="#0f9"/><stop offset="0.3301" stop-color="#00ffd0"/><stop offset="0.3761" stop-color="#0ff"/><stop offset="0.4284" stop-color="#00d2ff"/><stop offset="0.4872" stop-color="#00a9ff"/><stop offset="0.5524" stop-color="#0085ff"/><stop offset="0.6197" stop-color="#0068ff"/><stop offset="0.6912" stop-color="#0050ff"/><stop offset="0.7778" stop-color="#003aff"/><stop offset="0.8803" stop-color="#0028ff"/><stop offset="0.9979" stop-color="#001aff"/><stop offset="1" stop-color="#001aff"/></linearGradient>
<linearGradient id="g53" gradientUnits="userSpaceOnUse" x1="264" x2="1201"><stop offset="0" stop-color="#fff800"/><stop offset="0.0064" stop-color="#fdff00"/><stop offset="0.0983" stop-color="#73ff00"/><stop offset="0.1731" stop-color="#01ff00"/><stop offset="0.2404" stop-color="#00ff61"/><stop offset="0.2917" stop-color="#00ffa4"/><stop offset="0.3429" stop-color="#00ffde"/><stop offset="0.3771" stop-color="#00feff"/><stop offset="0.4284" stop-color="#00d2ff"/><stop offset="0.4872" stop-color="#00a9ff"/><stop offset="0.5524" stop-color="#0085ff"/><stop offset="0.6197" stop-color="#0068ff"/><stop offset="0.6912" stop-color="#0050ff"/><stop offset="0.7778" stop-color="#003aff"/><stop offset="0.8803" stop-color="#0028ff"/><stop offset="0.9979" stop-color="#001aff"/><stop offset="1" stop-color="#001aff"/></linearGradient>
<linearGradient id="g54" gradientUnits="userSpaceOnUse" x1="264" x2="1201"><stop offset="0" stop-color="#fffb00"/><stop offset="0.0043" stop-color="#fdff00"/><stop offset="0.0865" stop-color="#83ff00"/><stop offset="0.1731" stop-color="#0f0"/><stop offset="0.235" stop-color="#00ff5a"/><stop offset="0.2853" stop-color="#00ff9c"/><stop offset="0.3291" stop-color="#00ffcf"/><stop offset="0.3761" stop-color="#0ff"/><stop offset="0.4284" stop-color="#00d2ff"/><stop offset="0.4872" stop-color="#00a9ff"/><stop offset="0.5524" stop-color="#0085ff"/><stop offset="0.6197" stop-color="#0068ff"/><stop offset="0.6912" stop-color="#0050ff"/><stop offset="0.7778" stop-color="#003aff"/><stop offset="0.8803" stop-color="#0028ff"/><stop offset="0.9979" stop-color="#001aff"/><stop offset="1" stop-color="#001aff"/></linearGradient>
<linearGradient id="g55" gradientUnits="userSpaceOnUse" x1="264" x2="1201"><stop offset="0" stop-color="#fffe00"/><stop offset="0.047" stop-color="#bcff00"/><stop offset="0.172" stop-color="#0f0"/><stop offset="0.2447" stop-color="#00ff68"/><stop offset="0.2991" stop-color="#00ffad"/><stop offset="0.344" stop-color="#00ffdf"/><stop offset="0.3761" stop-color="#0ff"/><stop offset="0.4284" stop-color="#00d2ff"/><stop offset="0.4872" stop-color="#00a9ff"/><stop offset="0.5524" stop-color="#0085ff"/><stop offset="0.6197" stop-color="#0068ff"/><stop offset="0.6912" stop-color="#0050ff"/><stop offset="0.7778" stop-color="#003aff"/><stop offset="0.8803" stop-color="#0028ff"/><stop offset="0.9979" stop-color="#001aff"/><stop offset="1" stop-color="#001aff"/></linearGradient>
<linearGradient id="g56" gradientUnits="userSpaceOnUse" x1="264" x2="1201"><stop offset="0" stop-color="#fdff00"/><stop offset="0.0833" stop-color="#84ff00"/><stop offset="0.172" stop-color="#00ff01"/><stop offset="0.25" stop-color="#00ff6f"/><stop offset="0.2991" stop-color="#00ffad"/><stop offset="0.344" stop-color="#00ffdf"/><stop offset="0.3761" stop-color="#0ff"/><stop offset="0.4284" stop-color="#00d2ff"/><stop offset="0.4872" stop-color="#00a9ff"/><stop offset="0.5524" stop-color="#0085ff"/><stop offset="0.6197" stop-color="#0068ff"/><stop offset="0.6912" stop-color="#0050ff"/><stop offset="0.7778" stop-color="#003aff"/><stop offset="0.8803" stop-color="#0028ff"/><stop offset="0.9979" stop-color="#001aff"/><stop offset="1" stop-color="#001aff"/></linearGradient>
<linearGradient id="g57" gradientUnits="userSpaceOnUse" x1="264" x2="1201"><stop offset="0" stop-color="#faff00"/><stop offset="0.0908" stop-color="#7f0"/><stop offset="0.1709" stop-color="#0f0"/><stop offset="0.2468" stop-color="#00ff6b"/><stop offset="0.2949" stop-color="#00ffa8"/><stop offset="0.3355" stop-color="#00ffd6"/><stop offset="0.3761" stop-color="#0ff"/><stop offset="0.4284" stop-color="#00d2ff"/><stop offset="0.4872" stop-color="#00a9ff"/><stop offset="0.5524" stop-color="#0085ff"/><stop offset="0.6197" stop-color="#0068ff"/><stop offset="0.6912" stop-color="#0050ff"/><stop offset="0.7778" stop-color="#003aff"/><stop offset="0.8803" stop-color="#0028ff"/><stop offset="0.9979" stop-color="#001aff"/><stop offset="1" stop-color="#001aff"/></linearGradient>
<linearGradient id="g58" gradientUnits="userSpaceOnUse" x1="264" x2="1201"><stop offset="0" stop-color="#f6ff00"/><stop offset="0.0737" stop-color="#8eff00"/><stop offset="0.1709" stop-color="#00ff01"/><stop offset="0.2404" stop-color="#00ff63"/><stop offset="0.2938" stop-color="#00ffa7"/><stop offset="0.3419" stop-color="#0fd"/><stop offset="0.3761" stop-color="#0ff"/><stop offset="0.4284" stop-color="#00d2ff"/><stop offset="0.4872" stop-color="#00a9ff"/><stop offset="0.5524" stop-color="#0085ff"/><stop offset="0.6197" stop-color="#0068ff"/><stop offset="0.6912" stop-color="#0050ff"/><stop offset="0.7778" stop-color="#003aff"/><stop offset="0.8803" stop-color="#0028ff"/><stop offset="0.9979" stop-color="#001aff"/><stop offset="1" stop-color="#001aff"/></linearGradient>
<linearGradient id="g59" gradientUnits="userSpaceOnUse" x1="264" x2="1201"><stop offset="0" stop-color="#f3ff00"/><stop offset="0.0929" stop-color="#70ff00"/><stop offset="0.1699" stop-color="#0f0"/><stop offset="0.2393" stop-color="#00ff62"/><stop offset="0.2938" stop-color="#00ffa7"/><stop offset="0.3408" stop-color="#00ffdc"/><stop offset="0.3771" stop-color="#00feff"/><stop offset="0.4284" stop-color="#00d2ff"/><stop offset="0.4872" stop-color="#00a9ff"/><stop offset="0.5524" stop-color="#0085ff"/><stop offset="0.6197" stop-color="#0068ff"/><stop offset="0.6912" stop-color="#0050ff"/><stop offset="0.7778" stop-color="#003aff"/><stop offset="0.8803" stop-color="#0028ff"/><stop offset="0.9979" stop-color="#001aff"/><stop offset="1" stop-color="#001aff"/></linearGradient>
<linearGradient id="g60" gradientUnits="userSpaceOnUse" x1="264" x2="1201"><stop offset="0" stop-color="#f0ff00"/><stop offset="0.1068" stop-color="#5aff00"/><stop offset="0.1688" stop-color="#0f0"/><stop offset="0.2415" stop-color="#00ff65"/><stop offset="0.2927" stop-color="#00ffa6"/><stop offset="0.3408" stop-color="#00ffdc"/><stop offset="0.3761" stop-color="#0ff"/><stop offset="0.4284" stop-color="#00d2ff"/><stop offset="0.4872" stop-color="#00a9ff"/><stop offset="0.5524" stop-color="#0085ff"/><stop offset="0.6197" stop-color="#0068ff"/><stop offset="0.6912" stop-color="#0050ff"/><stop offset="0.7778" stop-color="#003aff"/><stop offset="0.8803" stop-color="#0028ff"/><stop offset="0.9979" stop-color="#001aff"/><stop offset="1" stop-color="#001aff"/></linearGradient>
<linearGradient id="g61" gradientUnits="userSpaceOnUse" x1="264" x2="1201"><stop offset="0" stop-color="#edff00"/><stop offset="0.0972" stop-color="#6f0"/><stop offset="0.1688" stop-color="#00ff01"/><stop offset="0.2457" stop-color="#00ff6b"/><stop offset="0.3002" stop-color="#00ffaf"/><stop offset="0.3429" stop-color="#00ffde"/><stop offset="0.3761" stop-color="#0ff"/><stop offset="0.422" stop-color="#00d7ff"/><stop offset="0.484" stop-color="#00abff"/><stop offset="0.5502" stop-color="#0086ff"/><stop offset="0.6197" stop-color="#0068ff"/><stop offset="0.6912" stop-color="#0050ff"/><stop offset="0.7778" stop-color="#003aff"/><stop offset="0.8803" stop-color="#0028ff"/><stop offset="0.9979" stop-color="#001aff"/><stop offset="1" stop-color="#001aff"/></linearGradient>
<linearGradient id="g62" gradientUnits="userSpaceOnUse" x1="264" x2="1201"><stop offset="0" stop-color="#e9ff00"/><stop offset="0.0791" stop-color="#7eff00"/><stop offset="0.1677" stop-color="#0f0"/><stop offset="0.2318" stop-color="#00ff59"/><stop offset="0.2842" stop-color="#00ff9c"/><stop offset="0.3323" stop-color="#00ffd3"/><stop offset="0.3761" stop-color="#0ff"/><stop offset="0.422" stop-color="#00d7ff"/><stop offset="0.484" stop-color="#00abff"/><stop offset="0.5502" stop-color="#0086ff"/><stop offset="0.6197" stop-color="#0068ff"/><stop offset="0.6912" stop-color="#0050ff"/><stop offset="0.7778" stop-color="#003aff"/><stop offset="0.8803" stop-color="#0028ff"/><stop offset="0.9979" stop-color="#001aff"/><stop offset="1" stop-color="#001aff"/></linearGradient>
<linearGradient id="g63" gradientUnits="userSpaceOnUse" x1="264" x2="1201"><stop offset="0" stop-color="#e6ff00"/><stop offset="0.078" stop-color="#7dff00"/><stop offset="0.1677" stop-color="#00ff01"/><stop offset="0.2382" stop-color="#00ff62"/><stop offset="0.2906" stop-color="#00ffa4"/><stop offset="0.3397" stop-color="#00ffdb"/><stop offset="0.3761" stop-color="#0ff"/><stop offset="0.422" stop-color="#00d7ff"/><stop offset="0.484" stop-color="#00abff"/><stop offset="0.5502" stop-color="#0086ff"/><stop offset="0.6197" stop-color="#0068ff"/><stop offset="0.6912" stop-color="#0050ff"/><stop offset="0.7778" stop-color="#003aff"/><stop offset="0.8803" stop-color="#0028ff"/><stop offset="0.9979" stop-color="#001aff"/><stop offset="1" stop-color="#001aff"/></linearGradient>
<linearGradient id="g64" gradientUnits="userSpaceOnUse" x1="264" x2="1201"><stop offset="0" stop-color="#e3ff00"/><stop offset="0.0865" stop-color="#6fff00"/><stop offset="0.1667" stop-color="#00ff01"/><stop offset="0.2447" stop-color="#00ff6b"/><stop offset="0.2981" stop-color="#00ffad"/><stop offset="0.3494" stop-color="#00ffe5"/><stop offset="0.3771" stop-color="#00feff"/><stop offset="0.422" stop-color="#00d7ff"/><stop offset="0.484" stop-color="#00abff"/><stop offset="0.5502" stop-color="#0086ff"/><stop offset="0.6197" stop-color="#0068ff"/><stop offset="0.6912" stop-color="#0050ff"/><stop offset="0.7778" stop-color="#003aff"/><stop offset="0.8803" stop-color="#0028ff"/><stop offset="0.9979" stop-color="#001aff"/><stop offset="1" stop-color="#001aff"/></linearGradient>
<linearGradient id="g65" gradientUnits="userSpaceOnUse" x1="264" x2="1201"><stop offset="0" stop-color="#dfff00"/><stop offset="0.0748" stop-color="#7dff00"/><stop offset="0.1656" stop-color="#00ff01"/><stop offset="0.2468" stop-color="#00ff6e"/><stop offset="0.3013" stop-color="#00ffb1"/><stop offset="0.3504" stop-color="#00ffe6"/><stop offset="0.3771" stop-color="#00feff"/><stop offset="0.422" stop-color="#00d7ff"/><stop offset="0.484" stop-color="#00abff"/><stop offset="0.5502" stop-color="#0086ff"/><stop offset="0.6197" stop-color="#0068ff"/><stop offset="0.6912" stop-color="#0050ff"/><stop offset="0.7778" stop-color="#003aff"/><stop offset="0.8803" stop-color="#0028ff"/><stop offset="0.9979" stop-color="#001aff"/><stop offset="1" stop-color="#001aff"/></linearGradient>
<linearGradient id="g66" gradientUnits="userSpaceOnUse" x1="264" x2="1201"><stop offset="0" stop-color="#dcff00"/><stop offset="0.0812" stop-color="#72ff00"/><stop offset="0.1645" stop-color="#0f0"/><stop offset="0.2393" stop-color="#00ff65"/><stop offset="0.2927" stop-color="#00ffa7"/><stop offset="0.3387" stop-color="#00ffda"/><stop offset="0.3761" stop-color="#0ff"/><stop offset="0.422" stop-color="#00d7ff"/><stop offset="0.484" stop-color="#00abff"/><stop offset="0.5502" stop-color="#0086ff"/><stop offset="0.6197" stop-color="#0068ff"/><stop offset="0.6912" stop-color="#0050ff"/><stop offset="0.7778" stop-color="#003aff"/><stop offset="0.8803" stop-color="#0028ff"/><stop offset="0.9979" stop-color="#001aff"/><stop offset="1" stop-color="#001aff"/></linearGradient>
<linearGradient id="g67" gradientUnits="userSpaceOnUse" x1="264" x2="1201"><stop offset="0" stop-color="#d8ff00"/><stop offset="0.0652" stop-color="#85ff00"/><stop offset="0.1635" stop-color="#0f0"/><stop offset="0.2468" stop-color="#00ff6f"/><stop offset="0.3045" stop-color="#00ffb5"/><stop offset="0.36" stop-color="#00fff0"/><stop offset="0.3771" stop-color="#00feff"/><stop offset="0.422" stop-color="#00d7ff"/><stop offset="0.484" stop-color="#00abff"/><stop offset="0.5502" stop-color="#0086ff"/><stop offset="0.6197" stop-color="#0068ff"/><stop offset="0.6912" stop-color="#0050ff"/><stop offset="0.7778" stop-color="#003aff"/><stop offset="0.8803" stop-color="#0028ff"/><stop offset="0.9979" stop-color="#001aff"/><stop offset="1" stop-color="#001aff"/></linearGradient>
<linearGradient id="g68" gradientUnits="userSpaceOnUse" x1="264" x2="1201"><stop offset="0" stop-color="#d5ff00"/><stop offset="0.0801" stop-color="#6fff00"/><stop offset="0.1624" stop-color="#0f0"/><stop offset="0.2457" stop-color="#00ff6e"/><stop offset="0.3034" stop-color="#00ffb4"/><stop offset="0.359" stop-color="#00ffef"/><stop offset="0.3771" stop-color="#00feff"/><stop offset="0.422" stop-color="#00d7ff"/><stop offset="0.484" stop-color="#00abff"/><stop offset="0.5502" stop-color="#0086ff"/><stop offset="0.6197" stop-color="#0068ff"/><stop offset="0.6912" stop-color="#0050ff"/><stop offset="0.7778" stop-color="#003aff"/><stop offset="0.8803" stop-color="#0028ff"/><stop offset="0.9979" stop-color="#001aff"/><stop offset="1" stop-color="#001aff"/></linearGradient>
<linearGradient id="g69" gradientUnits="userSpaceOnUse" x1="264" x2="1201"><stop offset="0" stop-color="#d2ff00"/><stop offset="0.0897" stop-color="#60ff00"/><stop offset="0.1624" stop-color="#00ff01"/><stop offset="0.25" stop-color="#00ff74"/><stop offset="0.3077" stop-color="#00ffb9"/><stop offset="0.36" stop-color="#00fff0"/><stop offset="0.3771" stop-color="#00feff"/><stop offset="0.422" stop-color="#00d7ff"/><stop offset="0.484" stop-color="#00abff"/><stop offset="0.5502" stop-color="#0086ff"/><stop offset="0.6197" stop-color="#0068ff"/><stop offset="0.6912" stop-color="#0050ff"/><stop offset="0.7778" stop-color="#003aff"/><stop offset="0.8803" stop-color="#0028ff"/><stop offset="0.9979" stop-color="#001aff"/><stop offset="1" stop-color="#001aff"/></linearGradient>
<linearGradient id="g70" gradientUnits="userSpaceOnUse" x1="264" x2="1201"><stop offset="0" stop-color="#ceff00"/><stop offset="0.078" stop-color="#6dff00"/><stop offset="0.1613" stop-color="#00ff01"/><stop offset="0.2457" stop-color="#00ff6f"/><stop offset="0.3024" stop-color="#00ffb3"/><stop offset="0.3472" stop-color="#00ffe3"/><stop offset="0.3771" stop-color="#00feff"/><stop offset="0.422" stop-color="#00d7ff"/><stop offset="0.484" stop-color="#00abff"/><stop offset="0.5502" stop-color="#0086ff"/><stop offset="0.6197" stop-color="#0068ff"/><stop offset="0.6912" stop-color="#0050ff"/><stop offset="0.7778" stop-color="#003aff"/><stop offset="0.8803" stop-color="#0028ff"/><stop offset="0.9979" stop-color="#001aff"/><stop offset="1" stop-color="#001aff"/></linearGradient>
<linearGradient id="g71" gradientUnits="userSpaceOnUse" x1="264" x2="1201"><stop offset="0" stop-color="#cbff00"/><stop offset="0.0855" stop-color="#61ff00"/><stop offset="0.1603" stop-color="#00ff01"/><stop offset="0.2564" stop-color="#00ff7d"/><stop offset="0.313" stop-color="#00ffbf"/><stop offset="0.3622" stop-color="#00fff2"/><stop offset="0.3771" stop-color="#00feff"/><stop offset="0.422" stop-color="#00d7ff"/><stop offset="0.484" stop-color="#00abff"/><stop offset="0.5502" stop-color="#0086ff"/><stop offset="0.6197" stop-color="#0068ff"/><stop offset="0.6912" stop-color="#0050ff"/><stop offset="0.7778" stop-color="#003aff"/><stop offset="0.8803" stop-color="#0028ff"/><stop offset="0.9979" stop-color="#001aff"/><stop offset="1" stop-color="#001aff"/></linearGradient>
<linearGradient id="g72" gradientUnits="userSpaceOnUse" x1="264" x2="1201"><stop offset="0" stop-color="#c7ff00"/><stop offset="0.0694" stop-color="#73ff00"/><stop offset="0.1592" stop-color="#00ff01"/><stop offset="0.2521" stop-color="#00ff78"/><stop offset="0.312" stop-color="#00ffbe"/><stop offset="0.3611" stop-color="#00fff1"/><stop offset="0.3771" stop-color="#00feff"/><stop offset="0.422" stop-color="#00d7ff"/><stop offset="0.484" stop-color="#00abff"/><stop offset="0.5502" stop-color="#0086ff"/><stop offset="0.6197" stop-color="#0068ff"/><stop offset="0.6912" stop-color="#0050ff"/><stop offset="0.7778" stop-color="#003aff"/><stop offset="0.8803" stop-color="#0028ff"/><stop offset="0.9979" stop-color="#001aff"/><stop offset="1" stop-color="#001aff"/></linearGradient>
<linearGradient id="g73" gradientUnits="userSpaceOnUse" x1="264" x2="1201"><stop offset="0" stop-color="#c4ff00"/><stop offset="0.0876" stop-color="#5aff00"/><stop offset="0.1581" stop-color="#00ff01"/><stop offset="0.2575" stop-color="#00ff7f"/><stop offset="0.3109" stop-color="#00ffbd"/><stop offset="0.36" stop-color="#00fff0"/><stop offset="0.3771" stop-color="#00feff"/><stop offset="0.4231" stop-color="#00d6ff"/><stop offset="0.484" stop-color="#00abff"/><stop offset="0.5502" stop-color="#0086ff"/><stop offset="0.6197" stop-color="#0068ff"/><stop offset="0.6912" stop-color="#0050ff"/><stop offset="0.7778" stop-color="#003aff"/><stop offset="0.8803" stop-color="#0028ff"/><stop offset="0.9979" stop-color="#001aff"/><stop offset="1" stop-color="#001aff"/></linearGradient>
<linearGradient id="g74" gradientUnits="userSpaceOnUse" x1="264" x2="1201"><stop offset="0" stop-color="#c0ff00"/><stop offset="0.0726" stop-color="#6aff00"/><stop offset="0.1571" stop-color="#00ff01"/><stop offset="0.2596" stop-color="#00ff82"/><stop offset="0.3152" stop-color="#00ffc2"/><stop offset="0.3622" stop-color="#00fff2"/><stop offset="0.3771" stop-color="#00feff"/><stop offset="0.4231" stop-color="#00d6ff"/><stop offset="0.484" stop-color="#00abff"/><stop offset="0.5502" stop-color="#0086ff"/><stop offset="0.6197" stop-color="#0068ff"/><stop offset="0.6912" stop-color="#0050ff"/><stop offset="0.7778" stop-color="#003aff"/><stop offset="0.8803" stop-color="#0028ff"/><stop offset="0.9979" stop-color="#001aff"/><stop offset="1" stop-color="#001aff"/></linearGradient>
<linearGradient id="g75" gradientUnits="userSpaceOnUse" x1="264" x2="1201"><stop offset="0" stop-color="#bdff00"/><stop offset="0.0844" stop-color="#59ff00"/><stop offset="0.156" stop-color="#00ff01"/><stop offset="0.2575" stop-color="#00ff80"/><stop offset="0.3141" stop-color="#00ffc1"/><stop offset="0.3611" stop-color="#00fff1"/><stop offset="0.3761" stop-color="#0ff"/><stop offset="0.4231" stop-color="#00d6ff"/><stop offset="0.484" stop-color="#00abff"/><stop offset="0.5502" stop-color="#0086ff"/><stop offset="0.6197" stop-color="#0068ff"/><stop offset="0.6912" stop-color="#0050ff"/><stop offset="0.7778" stop-color="#003aff"/><stop offset="0.8803" stop-color="#0028ff"/><stop offset="0.9979" stop-color="#001aff"/><stop offset="1" stop-color="#001aff"/></linearGradient>
<linearGradient id="g76" gradientUnits="userSpaceOnUse" x1="264" x2="1201"><stop offset="0" stop-color="#b9ff00"/><stop offset="0.0833" stop-color="#58ff00"/><stop offset="0.1549" stop-color="#00ff01"/><stop offset="0.2553" stop-color="#00ff7e"/><stop offset="0.313" stop-color="#00ffc0"/><stop offset="0.359" stop-color="#00ffef"/><stop offset="0.3761" stop-color="#00feff"/><stop offset="0.4348" stop-color="#00cdff"/><stop offset="0.4957" stop-color="#00a4ff"/><stop offset="0.5566" stop-color="#0083ff"/><stop offset="0.625" stop-color="#06f"/><stop offset="0.6976" stop-color="#004eff"/><stop offset="0.7885" stop-color="#0038ff"/><stop offset="0.8868" stop-color="#0027ff"/><stop offset="1" stop-color="#001aff"/></linearGradient>
<linearGradient id="g77" gradientUnits="userSpaceOnUse" x1="264" x2="1201"><stop offset="0" stop-color="#b6ff00"/><stop offset="0.0962" stop-color="#46ff00"/><stop offset="0.1528" stop-color="#0f0"/><stop offset="0.2575" stop-color="#00ff81"/><stop offset="0.3173" stop-color="#00ffc5"/><stop offset="0.375" stop-color="#0ff"/><stop offset="0.4348" stop-color="#00cdff"/><stop offset="0.4957" stop-color="#00a4ff"/><stop offset="0.5566" stop-color="#0083ff"/><stop offset="0.625" stop-color="#06f"/><stop offset="0.6976" stop-color="#004eff"/><stop offset="0.7885" stop-color="#0038ff"/><stop offset="0.8868" stop-color="#0027ff"/><stop offset="1" stop-color="#001aff"/></linearGradient>
<linearGradient id="g78" gradientUnits="userSpaceOnUse" x1="264" x2="1201"><stop offset="0" stop-color="#b2ff00"/><stop offset="0.0801" stop-color="#57ff00"/><stop offset="0.1517" stop-color="#0f0"/><stop offset="0.2553" stop-color="#00ff7f"/><stop offset="0.3162" stop-color="#00ffc4"/><stop offset="0.375" stop-color="#0ff"/><stop offset="0.4295" stop-color="#00d1ff"/><stop offset="0.4904" stop-color="#00a7ff"/><stop offset="0.5566" stop-color="#0083ff"/><stop offset="0.625" stop-color="#06f"/><stop offset="0.6976" stop-color="#004eff"/><stop offset="0.7885" stop-color="#0038ff"/><stop offset="0.8868" stop-color="#0027ff"/><stop offset="1" stop-color="#001aff"/></linearGradient>
<linearGradient id="g79" gradientUnits="userSpaceOnUse" x1="264" x2="1201"><stop offset="0" stop-color="#aeff00"/><stop offset="0.0684" stop-color="#62ff00"/><stop offset="0.1506" stop-color="#00ff01"/><stop offset="0.266" stop-color="#00ff8c"/><stop offset="0.3226" stop-color="#00ffcb"/><stop offset="0.375" stop-color="#0ff"/><stop offset="0.4295" stop-color="#00d1ff"/><stop offset="0.4904" stop-color="#00a7ff"/><stop offset="0.5566" stop-color="#0083ff"/><stop offset="0.625" stop-color="#06f"/><stop offset="0.6976" stop-color="#004eff"/><stop offset="0.7885" stop-color="#0038ff"/><stop offset="0.8868" stop-color="#0027ff"/><stop offset="1" stop-color="#001aff"/></linearGradient>
<linearGradient id="g80" gradientUnits="userSpaceOnUse" x1="264" x2="1201"><stop offset="0" stop-color="#abff00"/><stop offset="0.0833" stop-color="#4eff00"/><stop offset="0.1496" stop-color="#00ff01"/><stop offset="0.2682" stop-color="#00ff8f"/><stop offset="0.3291" stop-color="#00ffd2"/><stop offset="0.375" stop-color="#0ff"/><stop offset="0.4295" stop-color="#00d1ff"/><stop offset="0.4904" stop-color="#00a7ff"/><stop offset="0.5566" stop-color="#0083ff"/><stop offset="0.625" stop-color="#06f"/><stop offset="0.6976" stop-color="#004eff"/><stop offset="0.7885" stop-color="#0038ff"/><stop offset="0.8868" stop-color="#0027ff"/><stop offset="1" stop-color="#001aff"/></linearGradient>
<linearGradient id="g81" gradientUnits="userSpaceOnUse" x1="264" x2="1201"><stop offset="0" stop-color="#a7ff00"/><stop offset="0.0759" stop-color="#54ff00"/><stop offset="0.1474" stop-color="#0f0"/><stop offset="0.2692" stop-color="#00ff91"/><stop offset="0.3301" stop-color="#00ffd3"/><stop offset="0.375" stop-color="#0ff"/><stop offset="0.4295" stop-color="#00d1ff"/><stop offset="0.4904" stop-color="#00a7ff"/><stop offset="0.5566" stop-color="#0083ff"/><stop offset="0.625" stop-color="#06f"/><stop offset="0.6976" stop-color="#004eff"/><stop offset="0.7885" stop-color="#0038ff"/><stop offset="0.8868" stop-color="#0027ff"/><stop offset="1" stop-color="#001aff"/></linearGradient>
<linearGradient id="g82" gradientUnits="userSpaceOnUse" x1="264" x2="1201"><stop offset="0" stop-color="#a4ff00"/><stop offset="0.0929" stop-color="#3eff00"/><stop offset="0.1464" stop-color="#00ff01"/><stop offset="0.2831" stop-color="#00ffa1"/><stop offset="0.3408" stop-color="#00ffde"/><stop offset="0.3761" stop-color="#00feff"/><stop offset="0.4295" stop-color="#00d1ff"/><stop offset="0.4904" stop-color="#00a7ff"/><stop offset="0.5566" stop-color="#0083ff"/><stop offset="0.625" stop-color="#06f"/><stop offset="0.6976" stop-color="#004eff"/><stop offset="0.7885" stop-color="#0038ff"/><stop offset="0.8868" stop-color="#0027ff"/><stop offset="1" stop-color="#001aff"/></linearGradient>
<linearGradient id="g83" gradientUnits="userSpaceOnUse" x1="264" x2="1201"><stop offset="0" stop-color="#a0ff00"/><stop offset="0.0855" stop-color="#4f0"/><stop offset="0.1453" stop-color="#00ff01"/><stop offset="0.2703" stop-color="#00ff93"/><stop offset="0.3344" stop-color="#00ffd8"/><stop offset="0.3761" stop-color="#00feff"/><stop offset="0.4295" stop-color="#00d1ff"/><stop offset="0.4904" stop-color="#00a7ff"/><stop offset="0.5566" stop-color="#0083ff"/><stop offset="0.625" stop-color="#06f"/><stop offset="0.6976" stop-color="#004eff"/><stop offset="0.7885" stop-color="#0038ff"/><stop offset="0.8868" stop-color="#0027ff"/><stop offset="1" stop-color="#001aff"/></linearGradient>
<linearGradient id="g84" gradientUnits="userSpaceOnUse" x1="264" x2="1201"><stop offset="0" stop-color="#9cff00"/><stop offset="0.0759" stop-color="#4cff00"/><stop offset="0.1432" stop-color="#0f0"/><stop offset="0.2724" stop-color="#00ff96"/><stop offset="0.3344" stop-color="#00ffd8"/><stop offset="0.3761" stop-color="#00feff"/><stop offset="0.4295" stop-color="#00d1ff"/><stop offset="0.4904" stop-color="#00a7ff"/><stop offset="0.5566" stop-color="#0083ff"/><stop offset="0.625" stop-color="#06f"/><stop offset="0.6976" stop-color="#004eff"/><stop offset="0.7885" stop-color="#0038ff"/><stop offset="0.8868" stop-color="#0027ff"/><stop offset="1" stop-color="#001aff"/></linearGradient>
<linearGradient id="g85" gradientUnits="userSpaceOnUse" x1="264" x2="1201"><stop offset="0" stop-color="#9f0"/><stop offset="0.0908" stop-color="#39ff00"/><stop offset="0.1421" stop-color="#00ff01"/><stop offset="0.2756" stop-color="#00ff9a"/><stop offset="0.3333" stop-color="#00ffd7"/><stop offset="0.3761" stop-color="#00feff"/><stop offset="0.4295" stop-color="#00d1ff"/><stop offset="0.4904" stop-color="#00a7ff"/><stop offset="0.5566" stop-color="#0083ff"/><stop offset="0.625" stop-color="#06f"/><stop offset="0.6976" stop-color="#004eff"/><stop offset="0.7885" stop-color="#0038ff"/><stop offset="0.8868" stop-color="#0027ff"/><stop offset="1" stop-color="#001aff"/></linearGradient>
<linearGradient id="g86" gradientUnits="userSpaceOnUse" x1="264" x2="1201"><stop offset="0" stop-color="#95ff00"/><stop offset="0.0865" stop-color="#3bff00"/><stop offset="0.14" stop-color="#00ff01"/><stop offset="0.2853" stop-color="#00ffa5"/><stop offset="0.344" stop-color="#00ffe2"/><stop offset="0.3761" stop-color="#00feff"/><stop offset="0.4295" stop-color="#00d1ff"/><stop offset="0.4904" stop-color="#00a7ff"/><stop offset="0.5566" stop-color="#0083ff"/><stop offset="0.625" stop-color="#06f"/><stop offset="0.6976" stop-color="#004eff"/><stop offset="0.7885" stop-color="#0038ff"/><stop offset="0.8868" stop-color="#0027ff"/><stop offset="1" stop-color="#001aff"/></linearGradient>
<linearGradient id="g87" gradientUnits="userSpaceOnUse" x1="264" x2="1201"><stop offset="0" stop-color="#91ff00"/><stop offset="0.0823" stop-color="#3dff00"/><stop offset="0.1378" stop-color="#0f0"/><stop offset="0.2821" stop-color="#00ffa2"/><stop offset="0.3408" stop-color="#00ffdf"/><stop offset="0.375" stop-color="#0ff"/><stop offset="0.4241" stop-color="#00d5ff"/><stop offset="0.4872" stop-color="#00a9ff"/><stop offset="0.5524" stop-color="#0085ff"/><stop offset="0.6197" stop-color="#0068ff"/><stop offset="0.6912" stop-color="#0050ff"/><stop offset="0.7778" stop-color="#003aff"/><stop offset="0.8803" stop-color="#0028ff"/><stop offset="0.9979" stop-color="#001aff"/><stop offset="1" stop-color="#001aff"/></linearGradient>
<linearGradient id="g88" gradientUnits="userSpaceOnUse" x1="264" x2="1201"><stop offset="0" stop-color="#8dff00"/><stop offset="0.0769" stop-color="#40ff00"/><stop offset="0.1368" stop-color="#00ff01"/><stop offset="0.2853" stop-color="#00ffa6"/><stop offset="0.3408" stop-color="#00ffdf"/><stop offset="0.375" stop-color="#0ff"/><stop offset="0.4241" stop-color="#00d5ff"/><stop offset="0.4872" stop-color="#00a9ff"/><stop offset="0.5524" stop-color="#0085ff"/><stop offset="0.6197" stop-color="#0068ff"/><stop offset="0.6912" stop-color="#0050ff"/><stop offset="0.7778" stop-color="#003aff"/><stop offset="0.8803" stop-color="#0028ff"/><stop offset="0.9979" stop-color="#001aff"/><stop offset="1" stop-color="#001aff"/></linearGradient>
<linearGradient id="g89" gradientUnits="userSpaceOnUse" x1="264" x2="1201"><stop offset="0" stop-color="#8aff00"/><stop offset="0.0876" stop-color="#32ff00"/><stop offset="0.1346" stop-color="#00ff01"/><stop offset="0.2895" stop-color="#00ffab"/><stop offset="0.3536" stop-color="#00ffec"/><stop offset="0.375" stop-color="#00feff"/><stop offset="0.4359" stop-color="#0cf"/><stop offset="0.4989" stop-color="#00a2ff"/><stop offset="0.5609" stop-color="#0081ff"/><stop offset="0.625" stop-color="#06f"/><stop offset="0.6976" stop-color="#004eff"/><stop offset="0.7885" stop-color="#0038ff"/><stop offset="0.8868" stop-color="#0027ff"/><stop offset="1" stop-color="#001aff"/></linearGradient>
<linearGradient id="g90" gradientUnits="userSpaceOnUse" x1="264" x2="1201"><stop offset="0" stop-color="#86ff00"/><stop offset="0.0908" stop-color="#2cff00"/><stop offset="0.1325" stop-color="#00ff01"/><stop offset="0.2938" stop-color="#00ffb0"/><stop offset="0.3558" stop-color="#0fe"/><stop offset="0.375" stop-color="#00feff"/><stop offset="0.4359" stop-color="#0cf"/><stop offset="0.4989" stop-color="#00a2ff"/><stop offset="0.5609" stop-color="#0081ff"/><stop offset="0.625" stop-color="#06f"/><stop offset="0.6976" stop-color="#004eff"/><stop offset="0.7885" stop-color="#0038ff"/><stop offset="0.8868" stop-color="#0027ff"/><stop offset="1" stop-color="#001aff"/></linearGradient>
<linearGradient id="g91" gradientUnits="userSpaceOnUse" x1="264" x2="1201"><stop offset="0" stop-color="#82ff00"/><stop offset="0.0833" stop-color="#31ff00"/><stop offset="0.1303" stop-color="#0f0"/><stop offset="0.2895" stop-color="#00ffac"/><stop offset="0.3494" stop-color="#00ffe8"/><stop offset="0.375" stop-color="#00feff"/><stop offset="0.4306" stop-color="#00d0ff"/><stop offset="0.4904" stop-color="#00a7ff"/><stop offset="0.5566" stop-color="#0083ff"/><stop offset="0.625" stop-color="#06f"/><stop offset="0.6976" stop-color="#004eff"/><stop offset="0.7885" stop-color="#0038ff"/><stop offset="0.8868" stop-color="#0027ff"/><stop offset="1" stop-color="#001aff"/></linearGradient>
<linearGradient id="g92" gradientUnits="userSpaceOnUse" x1="264" x2="1201"><stop offset="0" stop-color="#7eff00"/><stop offset="0.0865" stop-color="#2bff00"/><stop offset="0.1282" stop-color="#0f0"/><stop offset="0.2938" stop-color="#00ffb1"/><stop offset="0.3494" stop-color="#00ffe8"/><stop offset="0.375" stop-color="#00feff"/><stop offset="0.4306" stop-color="#00d0ff"/><stop offset="0.4904" stop-color="#00a7ff"/><stop offset="0.5566" stop-color="#0083ff"/><stop offset="0.625" stop-color="#06f"/><stop offset="0.6976" stop-color="#004eff"/><stop offset="0.7885" stop-color="#0038ff"/><stop offset="0.8868" stop-color="#0027ff"/><stop offset="1" stop-color="#001aff"/></linearGradient>
<linearGradient id="g93" gradientUnits="userSpaceOnUse" x1="264" x2="1201"><stop offset="0" stop-color="#7bff00"/><stop offset="0.1047" stop-color="#16ff00"/><stop offset="0.1271" stop-color="#00ff01"/><stop offset="0.2991" stop-color="#00ffb7"/><stop offset="0.3632" stop-color="#00fff6"/><stop offset="0.375" stop-color="#00feff"/><stop offset="0.4306" stop-color="#00d0ff"/><stop offset="0.4904" stop-color="#00a7ff"/><stop offset="0.5566" stop-color="#0083ff"/><stop offset="0.625" stop-color="#06f"/><stop offset="0.6976" stop-color="#004eff"/><stop offset="0.7885" stop-color="#0038ff"/><stop offset="0.8868" stop-color="#0027ff"/><stop offset="1" stop-color="#001aff"/></linearGradient>
<linearGradient id="g94" gradientUnits="userSpaceOnUse" x1="264" x2="1201"><stop offset="0" stop-color="#7f0"/><stop offset="0.0951" stop-color="#1dff00"/><stop offset="0.1239" stop-color="#0f0"/><stop offset="0.3056" stop-color="#00ffbe"/><stop offset="0.3686" stop-color="#00fffb"/><stop offset="0.3761" stop-color="#00fdff"/><stop offset="0.4316" stop-color="#00cfff"/><stop offset="0.4936" stop-color="#00a5ff"/><stop offset="0.5588" stop-color="#0082ff"/><stop offset="0.625" stop-color="#06f"/><stop offset="0.6976" stop-color="#004eff"/><stop offset="0.7885" stop-color="#0038ff"/><stop offset="0.8868" stop-color="#0027ff"/><stop offset="1" stop-color="#001aff"/></linearGradient>
<linearGradient id="g95" gradientUnits="userSpaceOnUse" x1="264" x2="1201"><stop offset="0" stop-color="#73ff00"/><stop offset="0.1026" stop-color="#13ff00"/><stop offset="0.1218" stop-color="#00ff01"/><stop offset="0.2297" stop-color="#00ff70"/><stop offset="0.3152" stop-color="#00ffc8"/><stop offset="0.3739" stop-color="#0ff"/><stop offset="0.4263" stop-color="#00d3ff"/><stop offset="0.4904" stop-color="#00a7ff"/><stop offset="0.5566" stop-color="#0083ff"/><stop offset="0.625" stop-color="#06f"/><stop offset="0.6976" stop-color="#004eff"/><stop offset="0.7885" stop-color="#0038ff"/><stop offset="0.8868" stop-color="#0027ff"/><stop offset="1" stop-color="#001aff"/></linearGradient>
<linearGradient id="g96" gradientUnits="userSpaceOnUse" x1="264" x2="1201"><stop offset="0" stop-color="#6fff00"/><stop offset="0.0823" stop-color="#24ff00"/><stop offset="0.1197" stop-color="#00ff01"/><stop offset="0.2382" stop-color="#00ff7a"/><stop offset="0.3237" stop-color="#00ffd1"/><stop offset="0.3739" stop-color="#00feff"/><stop offset="0.437" stop-color="#00cbff"/><stop offset="0.4989" stop-color="#00a2ff"/><stop offset="0.5609" stop-color="#0081ff"/><stop offset="0.625" stop-color="#06f"/><stop offset="0.6976" stop-color="#004eff"/><stop offset="0.7885" stop-color="#0038ff"/><stop offset="0.8868" stop-color="#0027ff"/><stop offset="1" stop-color="#001aff"/></linearGradient>
<linearGradient id="g97" gradientUnits="userSpaceOnUse" x1="264" x2="1201"><stop offset="0" stop-color="#6bff00"/><stop offset="0.0908" stop-color="#19ff00"/><stop offset="0.1175" stop-color="#00ff01"/><stop offset="0.2585" stop-color="#00ff90"/><stop offset="0.3419" stop-color="#00ffe3"/><stop offset="0.3739" stop-color="#00feff"/><stop offset="0.4316" stop-color="#00cfff"/><stop offset="0.4936" stop-color="#00a5ff"/><stop offset="0.5588" stop-color="#0082ff"/><stop offset="0.625" stop-color="#06f"/><stop offset="0.6976" stop-color="#004eff"/><stop offset="0.7885" stop-color="#0038ff"/><stop offset="0.8868" stop-color="#0027ff"/><stop offset="1" stop-color="#001aff"/></linearGradient>
<linearGradient id="g98" gradientUnits="userSpaceOnUse" x1="264" x2="1201"><stop offset="0" stop-color="#67ff00"/><stop offset="0.0908" stop-color="#16ff00"/><stop offset="0.1143" stop-color="#00ff01"/><stop offset="0.2115" stop-color="#00ff61"/><stop offset="0.3088" stop-color="#00ffc3"/><stop offset="0.3729" stop-color="#0ff"/><stop offset="0.4263" stop-color="#00d3ff"/><stop offset="0.4872" stop-color="#00a9ff"/><stop offset="0.5524" stop-color="#0085ff"/><stop offset="0.6197" stop-color="#0068ff"/><stop offset="0.6912" stop-color="#0050ff"/><stop offset="0.7778" stop-color="#003aff"/><stop offset="0.8803" stop-color="#0028ff"/><stop offset="0.9979" stop-color="#001aff"/><stop offset="1" stop-color="#001aff"/></linearGradient>
<linearGradient id="g99" gradientUnits="userSpaceOnUse" x1="264" x2="1201"><stop offset="0" stop-color="#64ff00"/><stop offset="0.1122" stop-color="#00ff01"/><stop offset="0.2201" stop-color="#00ff6b"/><stop offset="0.3205" stop-color="#00ffcf"/><stop offset="0.3729" stop-color="#0ff"/><stop offset="0.4327" stop-color="#00ceff"/><stop offset="0.4968" stop-color="#00a3ff"/><stop offset="0.563" stop-color="#0080ff"/><stop offset="0.6303" stop-color="#0064ff"/><stop offset="0.7051" stop-color="#004cff"/><stop offset="0.8034" stop-color="#0035ff"/><stop offset="0.9017" stop-color="#0025ff"/><stop offset="1" stop-color="#001aff"/></linearGradient>
<linearGradient id="g100" gradientUnits="userSpaceOnUse" x1="264" x2="1201"><stop offset="0" stop-color="#60ff00"/><stop offset="0.1004" stop-color="#07ff00"/><stop offset="0.109" stop-color="#00ff01"/><stop offset="0.1987" stop-color="#00ff57"/><stop offset="0.3291" stop-color="#00ffd8"/><stop offset="0.3729" stop-color="#0ff"/><stop offset="0.4274" stop-color="#00d2ff"/><stop offset="0.4936" stop-color="#00a5ff"/><stop offset="0.5588" stop-color="#0082ff"/><stop offset="0.625" stop-color="#06f"/><stop offset="0.6976" stop-color="#004eff"/><stop offset="0.7885" stop-color="#0038ff"/><stop offset="0.8868" stop-color="#0027ff"/><stop offset="1" stop-color="#001aff"/></linearGradient>
<linearGradient id="g101" gradientUnits="userSpaceOnUse" x1="264" x2="1201"><stop offset="0" stop-color="#5cff00"/><stop offset="0.0951" stop-color="#09ff00"/><stop offset="0.1068" stop-color="#00ff01"/><stop offset="0.2265" stop-color="#00ff74"/><stop offset="0.3269" stop-color="#00ffd6"/><stop offset="0.3729" stop-color="#00feff"/><stop offset="0.438" stop-color="#00caff"/><stop offset="0.4989" stop-color="#00a2ff"/><stop offset="0.5609" stop-color="#0081ff"/><stop offset="0.625" stop-color="#06f"/><stop offset="0.6976" stop-color="#004eff"/><stop offset="0.7885" stop-color="#0038ff"/><stop offset="0.8868" stop-color="#0027ff"/><stop offset="1" stop-color="#001aff"/></linearGradient>
<linearGradient id="g102" gradientUnits="userSpaceOnUse" x1="264" x2="1201"><stop offset="0" stop-color="#58ff00"/><stop offset="0.0929" stop-color="#08ff00"/><stop offset="0.1036" stop-color="#00ff01"/><stop offset="0.2201" stop-color="#00ff6f"/><stop offset="0.3365" stop-color="#00ffe0"/><stop offset="0.3729" stop-color="#00feff"/><stop offset="0.4327" stop-color="#00ceff"/><stop offset="0.4968" stop-color="#00a3ff"/><stop offset="0.563" stop-color="#0080ff"/><stop offset="0.6303" stop-color="#0064ff"/><stop offset="0.7051" stop-color="#004cff"/><stop offset="0.8034" stop-color="#0035ff"/><stop offset="0.9017" stop-color="#0025ff"/><stop offset="1" stop-color="#001aff"/></linearGradient>
<linearGradient id="g103" gradientUnits="userSpaceOnUse" x1="264" x2="1201"><stop offset="0" stop-color="#54ff00"/><stop offset="0.0908" stop-color="#07ff00"/><stop offset="0.1004" stop-color="#00ff01"/><stop offset="0.2382" stop-color="#00ff82"/><stop offset="0.3483" stop-color="#00ffeb"/><stop offset="0.3729" stop-color="#00feff"/><stop offset="0.4338" stop-color="#00cdff"/><stop offset="0.4989" stop-color="#00a2ff"/><stop offset="0.5609" stop-color="#0081ff"/><stop offset="0.625" stop-color="#06f"/><stop offset="0.6976" stop-color="#004eff"/><stop offset="0.7885" stop-color="#0038ff"/><stop offset="0.8868" stop-color="#0027ff"/><stop offset="1" stop-color="#001aff"/></linearGradient>
<linearGradient id="g104" gradientUnits="userSpaceOnUse" x1="264" x2="1201"><stop offset="0" stop-color="#50ff00"/><stop offset="0.0887" stop-color="#06ff00"/><stop offset="0.0972" stop-color="#00ff01"/><stop offset="0.2286" stop-color="#00ff7a"/><stop offset="0.3301" stop-color="#00ffdb"/><stop offset="0.3718" stop-color="#0ff"/><stop offset="0.4231" stop-color="#00d5ff"/><stop offset="0.484" stop-color="#00abff"/><stop offset="0.5481" stop-color="#0087ff"/><stop offset="0.6197" stop-color="#0068ff"/><stop offset="0.6912" stop-color="#0050ff"/><stop offset="0.7778" stop-color="#003aff"/><stop offset="0.8803" stop-color="#0028ff"/><stop offset="0.9979" stop-color="#001aff"/><stop offset="1" stop-color="#001aff"/></linearGradient>
<linearGradient id="g105" gradientUnits="userSpaceOnUse" x1="264" x2="1201"><stop offset="0" stop-color="#4cff00"/><stop offset="0.0887" stop-color="#03ff00"/><stop offset="0.0951" stop-color="#00ff02"/><stop offset="0.1934" stop-color="#00ff5b"/><stop offset="0.36" stop-color="#00fff6"/><stop offset="0.3718" stop-color="#00feff"/><stop offset="0.4391" stop-color="#00c9ff"/><stop offset="0.5053" stop-color="#009eff"/><stop offset="0.5694" stop-color="#007dff"/><stop offset="0.641" stop-color="#0060ff"/><stop offset="0.7233" stop-color="#0047ff"/><stop offset="0.8088" stop-color="#0034ff"/><stop offset="0.9092" stop-color="#0024ff"/><stop offset="1" stop-color="#001aff"/></linearGradient>
<linearGradient id="g106" gradientUnits="userSpaceOnUse" x1="264" x2="1201"><stop offset="0" stop-color="#48ff00"/><stop offset="0.0876" stop-color="#01ff00"/><stop offset="0.0962" stop-color="#00ff06"/><stop offset="0.1848" stop-color="#0f5"/><stop offset="0.3494" stop-color="#00ffed"/><stop offset="0.3718" stop-color="#00feff"/><stop offset="0.4391" stop-color="#00c9ff"/><stop offset="0.5021" stop-color="#00a0ff"/><stop offset="0.5652" stop-color="#007fff"/><stop offset="0.6357" stop-color="#0062ff"/><stop offset="0.7158" stop-color="#0049ff"/><stop offset="0.8034" stop-color="#0035ff"/><stop offset="0.9017" stop-color="#0025ff"/><stop offset="1" stop-color="#001aff"/></linearGradient>
<linearGradient id="g107" gradientUnits="userSpaceOnUse" x1="264" x2="1201"><stop offset="0" stop-color="#4f0"/><stop offset="0.0865" stop-color="#00ff01"/><stop offset="0.1763" stop-color="#00ff4f"/><stop offset="0.3547" stop-color="#00fff2"/><stop offset="0.3718" stop-color="#00feff"/><stop offset="0.4348" stop-color="#0cf"/><stop offset="0.5021" stop-color="#00a0ff"/><stop offset="0.5652" stop-color="#007fff"/><stop offset="0.6357" stop-color="#0062ff"/><stop offset="0.7158" stop-color="#0049ff"/><stop offset="0.8034" stop-color="#0035ff"/><stop offset="0.9017" stop-color="#0025ff"/><stop offset="1" stop-color="#001aff"/></linearGradient>
<linearGradient id="g108" gradientUnits="userSpaceOnUse" x1="264" x2="1201"><stop offset="0" stop-color="#40ff00"/><stop offset="0.0833" stop-color="#00ff01"/><stop offset="0.1795" stop-color="#00ff54"/><stop offset="0.36" stop-color="#00fff7"/><stop offset="0.3718" stop-color="#00feff"/><stop offset="0.4252" stop-color="#00d3ff"/><stop offset="0.4872" stop-color="#00a9ff"/><stop offset="0.5524" stop-color="#0085ff"/><stop offset="0.6197" stop-color="#0068ff"/><stop offset="0.6912" stop-color="#0050ff"/><stop offset="0.7778" stop-color="#003aff"/><stop offset="0.8803" stop-color="#0028ff"/><stop offset="0.9979" stop-color="#001aff"/><stop offset="1" stop-color="#001aff"/></linearGradient>
<linearGradient id="g109" gradientUnits="userSpaceOnUse" x1="264" x2="1201"><stop offset="0" stop-color="#3cff00"/><stop offset="0.0791" stop-color="#00ff01"/><stop offset="0.1741" stop-color="#00ff51"/><stop offset="0.3526" stop-color="#00fff1"/><stop offset="0.3707" stop-color="#00feff"/><stop offset="0.4359" stop-color="#00cbff"/><stop offset="0.5021" stop-color="#00a0ff"/><stop offset="0.5652" stop-color="#007fff"/><stop offset="0.6357" stop-color="#0062ff"/><stop offset="0.7158" stop-color="#0049ff"/><stop offset="0.8034" stop-color="#0035ff"/><stop offset="0.9017" stop-color="#0025ff"/><stop offset="1" stop-color="#001aff"/></linearGradient>
<linearGradient id="g110" gradientUnits="userSpaceOnUse" x1="264" x2="1201"><stop offset="0" stop-color="#38ff00"/><stop offset="0.0748" stop-color="#00ff01"/><stop offset="0.1613" stop-color="#00ff48"/><stop offset="0.3568" stop-color="#00fff5"/><stop offset="0.3707" stop-color="#00feff"/><stop offset="0.4316" stop-color="#00ceff"/><stop offset="0.5" stop-color="#00a1ff"/><stop offset="0.5652" stop-color="#007fff"/><stop offset="0.6357" stop-color="#0062ff"/><stop offset="0.7158" stop-color="#0049ff"/><stop offset="0.8034" stop-color="#0035ff"/><stop offset="0.9017" stop-color="#0025ff"/><stop offset="1" stop-color="#001aff"/></linearGradient>
<linearGradient id="g111" gradientUnits="userSpaceOnUse" x1="264" x2="1201"><stop offset="0" stop-color="#34ff00"/><stop offset="0.0705" stop-color="#00ff01"/><stop offset="0.1453" stop-color="#00ff3d"/><stop offset="0.2457" stop-color="#00ff94"/><stop offset="0.3686" stop-color="#0ff"/><stop offset="0.4412" stop-color="#00c7ff"/><stop offset="0.5107" stop-color="#009bff"/><stop offset="0.578" stop-color="#0079ff"/><stop offset="0.6528" stop-color="#005cff"/><stop offset="0.735" stop-color="#04f"/><stop offset="0.8248" stop-color="#0031ff"/><stop offset="0.9327" stop-color="#0021ff"/><stop offset="1" stop-color="#001aff"/></linearGradient>
<linearGradient id="g112" gradientUnits="userSpaceOnUse" x1="264" x2="1201"><stop offset="0" stop-color="#30ff00"/><stop offset="0.0662" stop-color="#00ff01"/><stop offset="0.1485" stop-color="#00ff42"/><stop offset="0.2511" stop-color="#00ff9a"/><stop offset="0.3686" stop-color="#0ff"/><stop offset="0.437" stop-color="#00caff"/><stop offset="0.5021" stop-color="#00a0ff"/><stop offset="0.5652" stop-color="#007fff"/><stop offset="0.6357" stop-color="#0062ff"/><stop offset="0.7158" stop-color="#0049ff"/><stop offset="0.8034" stop-color="#0035ff"/><stop offset="0.9017" stop-color="#0025ff"/><stop offset="1" stop-color="#001aff"/></linearGradient>
<linearGradient id="g113" gradientUnits="userSpaceOnUse" x1="264" x2="1201"><stop offset="0" stop-color="#2cff00"/><stop offset="0.063" stop-color="#00ff01"/><stop offset="0.1699" stop-color="#00ff56"/><stop offset="0.3002" stop-color="#00ffc6"/><stop offset="0.3686" stop-color="#0ff"/><stop offset="0.4284" stop-color="#00d0ff"/><stop offset="0.4936" stop-color="#00a5ff"/><stop offset="0.5588" stop-color="#0082ff"/><stop offset="0.625" stop-color="#06f"/><stop offset="0.6976" stop-color="#004eff"/><stop offset="0.7885" stop-color="#0038ff"/><stop offset="0.8868" stop-color="#0027ff"/><stop offset="1" stop-color="#001aff"/></linearGradient>
<linearGradient id="g114" gradientUnits="userSpaceOnUse" x1="264" x2="1201"><stop offset="0" stop-color="#28ff00"/><stop offset="0.0577" stop-color="#00ff01"/><stop offset="0.1538" stop-color="#00ff4b"/><stop offset="0.2714" stop-color="#00ffae"/><stop offset="0.3675" stop-color="#0ff"/><stop offset="0.438" stop-color="#00c9ff"/><stop offset="0.5053" stop-color="#009eff"/><stop offset="0.5694" stop-color="#007dff"/><stop offset="0.641" stop-color="#0060ff"/><stop offset="0.7233" stop-color="#0047ff"/><stop offset="0.8088" stop-color="#0034ff"/><stop offset="0.9092" stop-color="#0024ff"/><stop offset="1" stop-color="#001aff"/></linearGradient>
<linearGradient id="g115" gradientUnits="userSpaceOnUse" x1="264" x2="1201"><stop offset="0" stop-color="#24ff00"/><stop offset="0.0534" stop-color="#00ff01"/><stop offset="0.1571" stop-color="#00ff50"/><stop offset="0.2628" stop-color="#00ffa8"/><stop offset="0.3675" stop-color="#0ff"/><stop offset="0.4295" stop-color="#00cfff"/><stop offset="0.4968" stop-color="#00a3ff"/><stop offset="0.5588" stop-color="#0082ff"/><stop offset="0.625" stop-color="#06f"/><stop offset="0.6976" stop-color="#004eff"/><stop offset="0.7885" stop-color="#0038ff"/><stop offset="0.8868" stop-color="#0027ff"/><stop offset="1" stop-color="#001aff"/></linearGradient>
<linearGradient id="g116" gradientUnits="userSpaceOnUse" x1="264" x2="1201"><stop offset="0" stop-color="#20ff00"/><stop offset="0.0481" stop-color="#00ff01"/><stop offset="0.1474" stop-color="#00ff4b"/><stop offset="0.2447" stop-color="#00ff9a"/><stop offset="0.3675" stop-color="#00feff"/><stop offset="0.4434" stop-color="#00c5ff"/><stop offset="0.516" stop-color="#0098ff"/><stop offset="0.5876" stop-color="#0075ff"/><stop offset="0.6645" stop-color="#0058ff"/><stop offset="0.7436" stop-color="#0042ff"/><stop offset="0.8355" stop-color="#002fff"/><stop offset="0.9498" stop-color="#001fff"/><stop offset="1" stop-color="#001aff"/></linearGradient>
<linearGradient id="g117" gradientUnits="userSpaceOnUse" x1="264" x2="1201"><stop offset="0" stop-color="#1cff00"/><stop offset="0.0427" stop-color="#00ff01"/><stop offset="0.1389" stop-color="#00ff47"/><stop offset="0.2308" stop-color="#00ff90"/><stop offset="0.3665" stop-color="#0ff"/><stop offset="0.4306" stop-color="#00ceff"/><stop offset="0.4968" stop-color="#00a3ff"/><stop offset="0.5588" stop-color="#0082ff"/><stop offset="0.625" stop-color="#06f"/><stop offset="0.6976" stop-color="#004eff"/><stop offset="0.7885" stop-color="#0038ff"/><stop offset="0.8868" stop-color="#0027ff"/><stop offset="1" stop-color="#001aff"/></linearGradient>
<linearGradient id="g118" gradientUnits="userSpaceOnUse" x1="264" x2="1201"><stop offset="0" stop-color="#18ff00"/><stop offset="0.0374" stop-color="#00ff01"/><stop offset="0.1314" stop-color="#0f4"/><stop offset="0.2276" stop-color="#00ff8f"/><stop offset="0.3654" stop-color="#0ff"/><stop offset="0.4359" stop-color="#00caff"/><stop offset="0.5053" stop-color="#009eff"/><stop offset="0.5652" stop-color="#007fff"/><stop offset="0.6357" stop-color="#0062ff"/><stop offset="0.7158" stop-color="#0049ff"/><stop offset="0.8034" stop-color="#0035ff"/><stop offset="0.9017" stop-color="#0025ff"/><stop offset="1" stop-color="#001aff"/></linearGradient>
<linearGradient id="g119" gradientUnits="userSpaceOnUse" x1="264" x2="1201"><stop offset="0" stop-color="#14ff00"/><stop offset="0.0321" stop-color="#00ff01"/><stop offset="0.14" stop-color="#00ff4d"/><stop offset="0.2393" stop-color="#00ff9a"/><stop offset="0.3654" stop-color="#0ff"/><stop offset="0.4327" stop-color="#0cf"/><stop offset="0.5032" stop-color="#009fff"/><stop offset="0.5673" stop-color="#007eff"/><stop offset="0.6357" stop-color="#0062ff"/><stop offset="0.7158" stop-color="#0049ff"/><stop offset="0.8034" stop-color="#0035ff"/><stop offset="0.9017" stop-color="#0025ff"/><stop offset="1" stop-color="#001aff"/></linearGradient>
<linearGradient id="g120" gradientUnits="userSpaceOnUse" x1="264" x2="1201"><stop offset="0" stop-color="#10ff00"/><stop offset="0.0267" stop-color="#00ff01"/><stop offset="0.1335" stop-color="#00ff4b"/><stop offset="0.2361" stop-color="#0f9"/><stop offset="0.3643" stop-color="#0ff"/><stop offset="0.437" stop-color="#00c9ff"/><stop offset="0.5085" stop-color="#009cff"/><stop offset="0.5759" stop-color="#007aff"/><stop offset="0.6528" stop-color="#005cff"/><stop offset="0.735" stop-color="#04f"/><stop offset="0.8248" stop-color="#0031ff"/><stop offset="0.9327" stop-color="#0021ff"/><stop offset="1" stop-color="#001aff"/></linearGradient>
<linearGradient id="g121" gradientUnits="userSpaceOnUse" x1="264" x2="1201"><stop offset="0" stop-color="#0cff00"/><stop offset="0.0203" stop-color="#00ff01"/><stop offset="0.1229" stop-color="#00ff46"/><stop offset="0.2222" stop-color="#00ff90"/><stop offset="0.3643" stop-color="#00feff"/><stop offset="0.4455" stop-color="#00c3ff"/><stop offset="0.5139" stop-color="#09f"/><stop offset="0.5876" stop-color="#0075ff"/><stop offset="0.6645" stop-color="#0058ff"/><stop offset="0.7436" stop-color="#0042ff"/><stop offset="0.8355" stop-color="#002fff"/><stop offset="0.9498" stop-color="#001fff"/><stop offset="1" stop-color="#001aff"/></linearGradient>
<linearGradient id="g122" gradientUnits="userSpaceOnUse" x1="264" x2="1201"><stop offset="0" stop-color="#08ff00"/><stop offset="0.015" stop-color="#00ff01"/><stop offset="0.1314" stop-color="#00ff4f"/><stop offset="0.2318" stop-color="#0f9"/><stop offset="0.3632" stop-color="#0ff"/><stop offset="0.4391" stop-color="#00c7ff"/><stop offset="0.5139" stop-color="#09f"/><stop offset="0.5876" stop-color="#0075ff"/><stop offset="0.6645" stop-color="#0058ff"/><stop offset="0.7436" stop-color="#0042ff"/><stop offset="0.8355" stop-color="#002fff"/><stop offset="0.9498" stop-color="#001fff"/><stop offset="1" stop-color="#001aff"/></linearGradient>
<linearGradient id="g123" gradientUnits="userSpaceOnUse" x1="264" x2="1201"><stop offset="0" stop-color="#04ff00"/><stop offset="0.0096" stop-color="#00ff02"/><stop offset="0.1143" stop-color="#00ff46"/><stop offset="0.2147" stop-color="#00ff8e"/><stop offset="0.3632" stop-color="#00feff"/><stop offset="0.4466" stop-color="#00c2ff"/><stop offset="0.5192" stop-color="#0096ff"/><stop offset="0.6068" stop-color="#006dff"/><stop offset="0.6806" stop-color="#0053ff"/><stop offset="0.765" stop-color="#003dff"/><stop offset="0.8665" stop-color="#002aff"/><stop offset="0.9786" stop-color="#001cff"/><stop offset="1" stop-color="#001aff"/></linearGradient>
<linearGradient id="g124" gradientUnits="userSpaceOnUse" x1="264" x2="1201"><stop offset="0" stop-color="#0f0"/><stop offset="0.1143" stop-color="#00ff49"/><stop offset="0.2094" stop-color="#00ff8c"/><stop offset="0.3622" stop-color="#00feff"/><stop offset="0.4541" stop-color="#00bdff"/><stop offset="0.5246" stop-color="#0093ff"/><stop offset="0.6068" stop-color="#006dff"/><stop offset="0.6806" stop-color="#0053ff"/><stop offset="0.765" stop-color="#003dff"/><stop offset="0.8665" stop-color="#002aff"/><stop offset="0.9786" stop-color="#001cff"/><stop offset="1" stop-color="#001aff"/></linearGradient>
<linearGradient id="g125" gradientUnits="userSpaceOnUse" x1="264" x2="1201"><stop offset="0" stop-color="#00ff04"/><stop offset="0.1143" stop-color="#00ff4c"/><stop offset="0.2137" stop-color="#00ff91"/><stop offset="0.3611" stop-color="#0ff"/><stop offset="0.4327" stop-color="#00cbff"/><stop offset="0.5118" stop-color="#009aff"/><stop offset="0.5897" stop-color="#0074ff"/><stop offset="0.6677" stop-color="#0057ff"/><stop offset="0.7479" stop-color="#0041ff"/><stop offset="0.8365" stop-color="#002fff"/><stop offset="0.9412" stop-color="#0020ff"/><stop offset="1" stop-color="#001aff"/></linearGradient>
<linearGradient id="g126" gradientUnits="userSpaceOnUse" x1="264" x2="1201"><stop offset="0" stop-color="#00ff08"/><stop offset="0.1218" stop-color="#00ff54"/><stop offset="0.219" stop-color="#00ff97"/><stop offset="0.36" stop-color="#0ff"/><stop offset="0.438" stop-color="#00c7ff"/><stop offset="0.5118" stop-color="#009aff"/><stop offset="0.5865" stop-color="#0075ff"/><stop offset="0.6677" stop-color="#0057ff"/><stop offset="0.7479" stop-color="#0041ff"/><stop offset="0.8365" stop-color="#002fff"/><stop offset="0.9412" stop-color="#0020ff"/><stop offset="1" stop-color="#001aff"/></linearGradient>
<linearGradient id="g127" gradientUnits="userSpaceOnUse" x1="264" x2="1201"><stop offset="0" stop-color="#00ff0c"/><stop offset="0.125" stop-color="#00ff59"/><stop offset="0.2233" stop-color="#00ff9c"/><stop offset="0.36" stop-color="#00feff"/><stop offset="0.4455" stop-color="#00c2ff"/><stop offset="0.5171" stop-color="#0097ff"/><stop offset="0.5897" stop-color="#0074ff"/><stop offset="0.6677" stop-color="#0057ff"/><stop offset="0.7479" stop-color="#0041ff"/><stop offset="0.8365" stop-color="#002fff"/><stop offset="0.9412" stop-color="#0020ff"/><stop offset="1" stop-color="#001aff"/></linearGradient>
<linearGradient id="g128" gradientUnits="userSpaceOnUse" x1="264" x2="1201"><stop offset="0" stop-color="#00ff10"/><stop offset="0.1282" stop-color="#00ff5e"/><stop offset="0.2308" stop-color="#00ffa3"/><stop offset="0.359" stop-color="#00feff"/><stop offset="0.4498" stop-color="#00bfff"/><stop offset="0.5246" stop-color="#0093ff"/><stop offset="0.5994" stop-color="#0070ff"/><stop offset="0.6741" stop-color="#05f"/><stop offset="0.7521" stop-color="#0040ff"/><stop offset="0.8419" stop-color="#002eff"/><stop offset="0.9509" stop-color="#001fff"/><stop offset="1" stop-color="#001aff"/></linearGradient>
<linearGradient id="g129" gradientUnits="userSpaceOnUse" x1="264" x2="1201"><stop offset="0" stop-color="#00ff14"/><stop offset="0.1346" stop-color="#00ff65"/><stop offset="0.235" stop-color="#00ffa8"/><stop offset="0.3579" stop-color="#00feff"/><stop offset="0.4541" stop-color="#00bcff"/><stop offset="0.5246" stop-color="#0093ff"/><stop offset="0.5994" stop-color="#0070ff"/><stop offset="0.6741" stop-color="#05f"/><stop offset="0.7521" stop-color="#0040ff"/><stop offset="0.8419" stop-color="#002eff"/><stop offset="0.9509" stop-color="#001fff"/><stop offset="1" stop-color="#001aff"/></linearGradient>
<linearGradient id="g130" gradientUnits="userSpaceOnUse" x1="264" x2="1201"><stop offset="0" stop-color="#00ff19"/><stop offset="0.1026" stop-color="#00ff54"/><stop offset="0.2073" stop-color="#00ff97"/><stop offset="0.3526" stop-color="#00fffd"/><stop offset="0.3611" stop-color="#00fbff"/><stop offset="0.4509" stop-color="#00beff"/><stop offset="0.5224" stop-color="#0094ff"/><stop offset="0.5994" stop-color="#0070ff"/><stop offset="0.6741" stop-color="#05f"/><stop offset="0.7521" stop-color="#0040ff"/><stop offset="0.8419" stop-color="#002eff"/><stop offset="0.9509" stop-color="#001fff"/><stop offset="1" stop-color="#001aff"/></linearGradient>
<linearGradient id="g131" gradientUnits="userSpaceOnUse" x1="264" x2="1201"><stop offset="0" stop-color="#00ff1d"/><stop offset="0.109" stop-color="#00ff5b"/><stop offset="0.2115" stop-color="#00ff9c"/><stop offset="0.3344" stop-color="#00fff1"/><stop offset="0.3558" stop-color="#00feff"/><stop offset="0.4551" stop-color="#0bf"/><stop offset="0.5299" stop-color="#0090ff"/><stop offset="0.5994" stop-color="#0070ff"/><stop offset="0.6741" stop-color="#05f"/><stop offset="0.7521" stop-color="#0040ff"/><stop offset="0.8419" stop-color="#002eff"/><stop offset="0.9509" stop-color="#001fff"/><stop offset="1" stop-color="#001aff"/></linearGradient>
<linearGradient id="g132" gradientUnits="userSpaceOnUse" x1="264" x2="1201"><stop offset="0" stop-color="#00ff21"/><stop offset="0.1154" stop-color="#00ff62"/><stop offset="0.2265" stop-color="#00ffa8"/><stop offset="0.3547" stop-color="#00feff"/><stop offset="0.4594" stop-color="#00b8ff"/><stop offset="0.5395" stop-color="#008bff"/><stop offset="0.6143" stop-color="#006aff"/><stop offset="0.6912" stop-color="#0050ff"/><stop offset="0.7778" stop-color="#003aff"/><stop offset="0.8803" stop-color="#0028ff"/><stop offset="0.9979" stop-color="#001aff"/><stop offset="1" stop-color="#001aff"/></linearGradient>
<linearGradient id="g133" gradientUnits="userSpaceOnUse" x1="264" x2="1201"><stop offset="0" stop-color="#00ff25"/><stop offset="0.1186" stop-color="#00ff67"/><stop offset="0.2372" stop-color="#00ffb1"/><stop offset="0.3536" stop-color="#00feff"/><stop offset="0.4498" stop-color="#00beff"/><stop offset="0.5224" stop-color="#0094ff"/><stop offset="0.5994" stop-color="#0070ff"/><stop offset="0.6741" stop-color="#05f"/><stop offset="0.7521" stop-color="#0040ff"/><stop offset="0.8419" stop-color="#002eff"/><stop offset="0.9509" stop-color="#001fff"/><stop offset="1" stop-color="#001aff"/></linearGradient>
<linearGradient id="g134" gradientUnits="userSpaceOnUse" x1="264" x2="1201"><stop offset="0" stop-color="#00ff29"/><stop offset="0.1218" stop-color="#00ff6c"/><stop offset="0.2233" stop-color="#0fa"/><stop offset="0.3526" stop-color="#00feff"/><stop offset="0.4541" stop-color="#0bf"/><stop offset="0.5299" stop-color="#0090ff"/><stop offset="0.5994" stop-color="#0070ff"/><stop offset="0.6741" stop-color="#05f"/><stop offset="0.7521" stop-color="#0040ff"/><stop offset="0.8419" stop-color="#002eff"/><stop offset="0.9509" stop-color="#001fff"/><stop offset="1" stop-color="#001aff"/></linearGradient>
<linearGradient id="g135" gradientUnits="userSpaceOnUse" x1="264" x2="1201"><stop offset="0" stop-color="#00ff2d"/><stop offset="0.1303" stop-color="#00ff74"/><stop offset="0.2393" stop-color="#00ffb6"/><stop offset="0.3504" stop-color="#00feff"/><stop offset="0.4637" stop-color="#00b5ff"/><stop offset="0.5395" stop-color="#008bff"/><stop offset="0.6068" stop-color="#006dff"/><stop offset="0.6806" stop-color="#0053ff"/><stop offset="0.765" stop-color="#003dff"/><stop offset="0.8665" stop-color="#002aff"/><stop offset="0.9786" stop-color="#001cff"/><stop offset="1" stop-color="#001aff"/></linearGradient>
<linearGradient id="g136" gradientUnits="userSpaceOnUse" x1="264" x2="1201"><stop offset="0" stop-color="#00ff31"/><stop offset="0.125" stop-color="#00ff74"/><stop offset="0.2329" stop-color="#00ffb4"/><stop offset="0.3494" stop-color="#00feff"/><stop offset="0.4615" stop-color="#00b6ff"/><stop offset="0.5395" stop-color="#008bff"/><stop offset="0.6143" stop-color="#006aff"/><stop offset="0.6912" stop-color="#0050ff"/><stop offset="0.7778" stop-color="#003aff"/><stop offset="0.8803" stop-color="#0028ff"/><stop offset="0.9979" stop-color="#001aff"/><stop offset="1" stop-color="#001aff"/></linearGradient>
<linearGradient id="g137" gradientUnits="userSpaceOnUse" x1="264" x2="1201"><stop offset="0" stop-color="#00ff35"/><stop offset="0.1303" stop-color="#00ff7a"/><stop offset="0.2425" stop-color="#00ffbc"/><stop offset="0.3483" stop-color="#00feff"/><stop offset="0.4658" stop-color="#00b3ff"/><stop offset="0.5491" stop-color="#0086ff"/><stop offset="0.6271" stop-color="#0065ff"/><stop offset="0.7051" stop-color="#004cff"/><stop offset="0.8034" stop-color="#0035ff"/><stop offset="0.9017" stop-color="#0025ff"/><stop offset="1" stop-color="#001aff"/></linearGradient>
<linearGradient id="g138" gradientUnits="userSpaceOnUse" x1="264" x2="1201"><stop offset="0" stop-color="#00ff39"/><stop offset="0.1357" stop-color="#00ff80"/><stop offset="0.2489" stop-color="#00ffc2"/><stop offset="0.3462" stop-color="#00feff"/><stop offset="0.4658" stop-color="#00b3ff"/><stop offset="0.547" stop-color="#0087ff"/><stop offset="0.6218" stop-color="#0067ff"/><stop offset="0.7009" stop-color="#004dff"/><stop offset="0.8034" stop-color="#0035ff"/><stop offset="0.9017" stop-color="#0025ff"/><stop offset="1" stop-color="#001aff"/></linearGradient>
<linearGradient id="g139" gradientUnits="userSpaceOnUse" x1="264" x2="1201"><stop offset="0" stop-color="#00ff3d"/><stop offset="0.1432" stop-color="#00ff87"/><stop offset="0.2489" stop-color="#00ffc4"/><stop offset="0.3451" stop-color="#00feff"/><stop offset="0.4722" stop-color="#00afff"/><stop offset="0.5513" stop-color="#0085ff"/><stop offset="0.6271" stop-color="#0065ff"/><stop offset="0.7051" stop-color="#004cff"/><stop offset="0.8034" stop-color="#0035ff"/><stop offset="0.9017" stop-color="#0025ff"/><stop offset="1" stop-color="#001aff"/></linearGradient>
<linearGradient id="g140" gradientUnits="userSpaceOnUse" x1="264" x2="1201"><stop offset="0" stop-color="#00ff41"/><stop offset="0.1432" stop-color="#00ff8a"/><stop offset="0.2543" stop-color="#00ffc9"/><stop offset="0.3429" stop-color="#00feff"/><stop offset="0.4786" stop-color="#00abff"/><stop offset="0.5598" stop-color="#0081ff"/><stop offset="0.6357" stop-color="#0062ff"/><stop offset="0.7158" stop-color="#0049ff"/><stop offset="0.8034" stop-color="#0035ff"/><stop offset="0.9017" stop-color="#0025ff"/><stop offset="1" stop-color="#001aff"/></linearGradient>
<linearGradient id="g141" gradientUnits="userSpaceOnUse" x1="264" x2="1201"><stop offset="0" stop-color="#00ff46"/><stop offset="0.1165" stop-color="#00ff7f"/><stop offset="0.2286" stop-color="#00ffbc"/><stop offset="0.3419" stop-color="#00feff"/><stop offset="0.4679" stop-color="#00b1ff"/><stop offset="0.5491" stop-color="#0086ff"/><stop offset="0.6271" stop-color="#0065ff"/><stop offset="0.7051" stop-color="#004cff"/><stop offset="0.8034" stop-color="#0035ff"/><stop offset="0.9017" stop-color="#0025ff"/><stop offset="1" stop-color="#001aff"/></linearGradient>
<linearGradient id="g142" gradientUnits="userSpaceOnUse" x1="264" x2="1201"><stop offset="0" stop-color="#00ff4a"/><stop offset="0.1239" stop-color="#00ff86"/><stop offset="0.2372" stop-color="#00ffc3"/><stop offset="0.3397" stop-color="#00feff"/><stop offset="0.4744" stop-color="#00adff"/><stop offset="0.5513" stop-color="#0085ff"/><stop offset="0.6271" stop-color="#0065ff"/><stop offset="0.7051" stop-color="#004cff"/><stop offset="0.8034" stop-color="#0035ff"/><stop offset="0.9017" stop-color="#0025ff"/><stop offset="1" stop-color="#001aff"/></linearGradient>
<linearGradient id="g143" gradientUnits="userSpaceOnUse" x1="264" x2="1201"><stop offset="0" stop-color="#00ff4e"/><stop offset="0.1357" stop-color="#00ff8f"/><stop offset="0.2511" stop-color="#00ffcd"/><stop offset="0.3376" stop-color="#00feff"/><stop offset="0.4776" stop-color="#00abff"/><stop offset="0.5534" stop-color="#0084ff"/><stop offset="0.6271" stop-color="#0065ff"/><stop offset="0.7051" stop-color="#004cff"/><stop offset="0.8034" stop-color="#0035ff"/><stop offset="0.9017" stop-color="#0025ff"/><stop offset="1" stop-color="#001aff"/></linearGradient>
<linearGradient id="g144" gradientUnits="userSpaceOnUse" x1="264" x2="1201"><stop offset="0" stop-color="#00ff52"/><stop offset="0.1335" stop-color="#00ff91"/><stop offset="0.2511" stop-color="#00ffcf"/><stop offset="0.3355" stop-color="#00feff"/><stop offset="0.4808" stop-color="#00a9ff"/><stop offset="0.562" stop-color="#0080ff"/><stop offset="0.6357" stop-color="#0062ff"/><stop offset="0.7158" stop-color="#0049ff"/><stop offset="0.8034" stop-color="#0035ff"/><stop offset="0.9017" stop-color="#0025ff"/><stop offset="1" stop-color="#001aff"/></linearGradient>
<linearGradient id="g145" gradientUnits="userSpaceOnUse" x1="264" x2="1201"><stop offset="0" stop-color="#00ff56"/><stop offset="0.1635" stop-color="#00ffa3"/><stop offset="0.2724" stop-color="#0fd"/><stop offset="0.3333" stop-color="#00feff"/><stop offset="0.484" stop-color="#00a7ff"/><stop offset="0.5662" stop-color="#007eff"/><stop offset="0.641" stop-color="#0060ff"/><stop offset="0.7233" stop-color="#0047ff"/><stop offset="0.8088" stop-color="#0034ff"/><stop offset="0.9092" stop-color="#0024ff"/><stop offset="1" stop-color="#001aff"/></linearGradient>
<linearGradient id="g146" gradientUnits="userSpaceOnUse" x1="264" x2="1201"><stop offset="0" stop-color="#00ff5a"/><stop offset="0.1496" stop-color="#00ff9f"/><stop offset="0.2618" stop-color="#00ffd9"/><stop offset="0.3312" stop-color="#00feff"/><stop offset="0.4872" stop-color="#00a5ff"/><stop offset="0.5684" stop-color="#007dff"/><stop offset="0.641" stop-color="#0060ff"/><stop offset="0.7233" stop-color="#0047ff"/><stop offset="0.8088" stop-color="#0034ff"/><stop offset="0.9092" stop-color="#0024ff"/><stop offset="1" stop-color="#001aff"/></linearGradient>
<linearGradient id="g147" gradientUnits="userSpaceOnUse" x1="264" x2="1201"><stop offset="0" stop-color="#00ff5e"/><stop offset="0.1517" stop-color="#00ffa3"/><stop offset="0.2618" stop-color="#00ffdb"/><stop offset="0.3291" stop-color="#00feff"/><stop offset="0.4904" stop-color="#00a3ff"/><stop offset="0.5705" stop-color="#007cff"/><stop offset="0.6442" stop-color="#005fff"/><stop offset="0.7233" stop-color="#0047ff"/><stop offset="0.8088" stop-color="#0034ff"/><stop offset="0.9092" stop-color="#0024ff"/><stop offset="1" stop-color="#001aff"/></linearGradient>
<linearGradient id="g148" gradientUnits="userSpaceOnUse" x1="264" x2="1201"><stop offset="0" stop-color="#00ff62"/><stop offset="0.1581" stop-color="#00ffa9"/><stop offset="0.2788" stop-color="#00ffe6"/><stop offset="0.3269" stop-color="#00feff"/><stop offset="0.4861" stop-color="#00a5ff"/><stop offset="0.5726" stop-color="#007bff"/><stop offset="0.6442" stop-color="#005fff"/><stop offset="0.7233" stop-color="#0047ff"/><stop offset="0.8088" stop-color="#0034ff"/><stop offset="0.9092" stop-color="#0024ff"/><stop offset="1" stop-color="#001aff"/></linearGradient>
<linearGradient id="g149" gradientUnits="userSpaceOnUse" x1="264" x2="1201"><stop offset="0" stop-color="#0f6"/><stop offset="0.172" stop-color="#00ffb2"/><stop offset="0.3034" stop-color="#00fff5"/><stop offset="0.3237" stop-color="#00feff"/><stop offset="0.4989" stop-color="#009eff"/><stop offset="0.5865" stop-color="#0075ff"/><stop offset="0.6645" stop-color="#0058ff"/><stop offset="0.7436" stop-color="#0042ff"/><stop offset="0.8355" stop-color="#002fff"/><stop offset="0.9498" stop-color="#001fff"/><stop offset="1" stop-color="#001aff"/></linearGradient>
<linearGradient id="cb" gradientUnits="userSpaceOnUse" x1="0" x2="0" y1="1611.2" y2="2499.6"><stop offset="0" stop-color="#f00"/><stop offset="0.25" stop-color="#ff0"/><stop offset="0.5" stop-color="#0f0"/><stop offset="0.75" stop-color="#0ff"/><stop offset="1" stop-color="#00f"/></linearGradient>
</defs>
<g id="heatmap" shape-rendering="crispEdges">
<rect x="264" y="1604" width="937" height="6" fill="url(#g0)"/>
<rect x="264" y="1610" width="937" height="6" fill="url(#g1)"/>
<rect x="264" y="1616" width="937" height="6" fill="url(#g2)"/>
<rect x="264" y="1622" width="937" height="6" fill="url(#g3)"/>
<rect x="264" y="1628" width="937" height="6" fill="url(#g4)"/>
<rect x="264" y="1634" width="937" height="6" fill="url(#g5)"/>
<rect x="264" y="1640" width="937" height="6" fill="url(#g6)"/>
<rect x="264" y="1646" width="937" height="6" fill="url(#g7)"/>
<rect x="264" y="1652" width="937" height="6" fill="url(#g8)"/>
<rect x="264" y="1658" width="937" height="6" fill="url(#g9)"/>
<rect x="264" y="1664" width="937" height="6" fill="url(#g10)"/>
<rect x="264" y="1670" width="937" height="6" fill="url(#g11)"/>
<rect x="264" y="1676" width="937" height="6" fill="url(#g12)"/>
<rect x="264" y="1682" width="937" height="6" fill="url(#g13)"/>
<rect x="264" y="1688" width="937" height="6" fill="url(#g14)"/>
<rect x="264" y="1694" width="937" height="6" fill="url(#g15)"/>
<rect x="264" y="1700" width="937" height="6" fill="url(#g16)"/>
<rect x="264" y="1706" width="937" height="6" fill="url(#g17)"/>
<rect x="264" y="1712" width="937" height="6" fill="url(#g18)"/>
<rect x="264" y="1718" width="937" height="6" fill="url(#g19)"/>
<rect x="264" y="1724" width="937" height="6" fill="url(#g20)"/>
<rect x="264" y="1730" width="937" height="6" fill="url(#g21)"/>
<rect x="264" y="1736" width="937" height="6" fill="url(#g22)"/>
<rect x="264" y="1742" width="937" height="6" fill="url(#g23)"/>
<rect x="264" y="1748" width="937" height="6" fill="url(#g24)"/>
<rect x="264" y="1754" width="937" height="6" fill="url(#g25)"/>
<rect x="264" y="1760" width="937" height="6" fill="url(#g26)"/>
<rect x="264" y="1766" width="937" height="6" fill="url(#g27)"/>
<rect x="264" y="1772" width="937" height="6" fill="url(#g28)"/>
<rect x="264" y="1778" width="937" height="6" fill="url(#g29)"/>
<rect x="264" y="1784" width="937" height="6" fill="url(#g30)"/>
<rect x="264" y="1790" width="937" height="6" fill="url(#g31)"/>
<rect x="264" y="1796" width="937" height="6" fill="url(#g32)"/>
<rect x="264" y="1802" width="937" height="6" fill="url(#g33)"/>
<rect x="264" y="1808" width="937" height="6" fill="url(#g34)"/>
<rect x="264" y="1814" width="937" height="6" fill="url(#g35)"/>
<rect x="264" y="1820" width="937" height="6" fill="url(#g36)"/>
<rect x="264" y="1826" width="937" height="6" fill="url(#g37)"/>
<rect x="264" y="1832" width="937" height="6" fill="url(#g38)"/>
<rect x="264" y="1838" width="937" height="6" fill="url(#g39)"/>
<rect x="264" y="1844" width="937" height="6" fill="url(#g40)"/>
<rect x="264" y="1850" width="937" height="6" fill="url(#g41)"/>
<rect x="264" y="1856" width="937" height="6" fill="url(#g42)"/>
<rect x="264" y="1862" width="937" height="6" fill="url(#g43)"/>
<rect x="264" y="1868" width="937" height="6" fill="url(#g44)"/>
<rect x="264" y="1874" width="937" height="6" fill="url(#g45)"/>
<rect x="264" y="1880" width="937" height="6" fill="url(#g46)"/>
<rect x="264" y="1886" width="937" height="6" fill="url(#g47)"/>
<rect x="264" y="1892" width="937" height="6" fill="url(#g48)"/>
<rect x="264" y="1898" width="937" height="6" fill="url(#g49)"/>
<rect x="264" y="1904" width="937" height="6" fill="url(#g50)"/>
<rect x="264" y="1910" width="937" height="6" fill="url(#g51)"/>
<rect x="264" y="1916" width="937" height="6" fill="url(#g52)"/>
<rect x="264" y="1922" width="937" height="6" fill="url(#g53)"/>
<rect x="264" y="1928" width="937" height="6" fill="url(#g54)"/>
<rect x="264" y="1934" width="937" height="6" fill="url(#g55)"/>
<rect x="264" y="1940" width="937" height="6" fill="url(#g56)"/>
<rect x="264" y="1946" width="937" height="6" fill="url(#g57)"/>
<rect x="264" y="1952" width="937" height="6" fill="url(#g58)"/>
<rect x="264" y="1958" width="937" height="6" fill="url(#g59)"/>
<rect x="264" y="1964" width="937" height="6" fill="url(#g60)"/>
<rect x="264" y="1970" width="937" height="6" fill="url(#g61)"/>
<rect x="264" y="1976" width="937" height="6" fill="url(#g62)"/>
<rect x="264" y="1982" width="937" height="6" fill="url(#g63)"/>
<rect x="264" y="1988" width="937" height="6" fill="url(#g64)"/>
<rect x="264" y="1994" width="937" height="6" fill="url(#g65)"/>
<rect x="264" y="2000" width="937" height="6" fill="url(#g66)"/>
<rect x="264" y="2006" width="937" height="6" fill="url(#g67)"/>
<rect x="264" y="2012" width="937" height="6" fill="url(#g68)"/>
<rect x="264" y="2018" width="937" height="6" fill="url(#g69)"/>
<rect x="264" y="2024" width="937" height="6" fill="url(#g70)"/>
<rect x="264" y="2030" width="937" height="6" fill="url(#g71)"/>
<rect x="264" y="2036" width="937" height="6" fill="url(#g72)"/>
<rect x="264" y="2042" width="937" height="6" fill="url(#g73)"/>
<rect x="264" y="2048" width="937" height="6" fill="url(#g74)"/>
<rect x="264" y="2054" width="937" height="6" fill="url(#g75)"/>
<rect x="264" y="2060" width="937" height="6" fill="url(#g76)"/>
<rect x="264" y="2066" width="937" height="6" fill="url(#g77)"/>
<rect x="264" y="2072" width="937" height="6" fill="url(#g78)"/>
<rect x="264" y="2078" width="937" height="6" fill="url(#g79)"/>
<rect x="264" y="2084" width="937" height="6" fill="url(#g80)"/>
<rect x="264" y="2090" width="937" height="6" fill="url(#g81)"/>
<rect x="264" y="2096" width="937" height="6" fill="url(#g82)"/>
<rect x="264" y="2102" width="937" height="6" fill="url(#g83)"/>
<rect x="264" y="2108" width="937" height="6" fill="url(#g84)"/>
<rect x="264" y="2114" width="937" height="6" fill="url(#g85)"/>
<rect x="264" y="2120" width="937" height="6" fill="url(#g86)"/>
<rect x="264" y="2126" width="937" height="6" fill="url(#g87)"/>
<rect x="264" y="2132" width="937" height="6" fill="url(#g88)"/>
<rect x="264" y="2138" width="937" height="6" fill="url(#g89)"/>
<rect x="264" y="2144" width="937" height="6" fill="url(#g90)"/>
<rect x="264" y="2150" width="937" height="6" fill="url(#g91)"/>
<rect x="264" y="2156" width="937" height="6" fill="url(#g92)"/>
<rect x="264" y="2162" width="937" height="6" fill="url(#g93)"/>
<rect x="264" y="2168" width="937" height="6" fill="url(#g94)"/>
<rect x="264" y="2174" width="937" height="6" fill="url(#g95)"/>
<rect x="264" y="2180" width="937" height="6" fill="url(#g96)"/>
<rect x="264" y="2186" width="937" height="6" fill="url(#g97)"/>
<rect x="264" y="2192" width="937" height="6" fill="url(#g98)"/>
<rect x="264" y="2198" width="937" height="6" fill="url(#g99)"/>
<rect x="264" y="2204" width="937" height="6" fill="url(#g100)"/>
<rect x="264" y="2210" width="937" height="6" fill="url(#g101)"/>
<rect x="264" y="2216" width="937" height="6" fill="url(#g102)"/>
<rect x="264" y="2222" width="937" height="6" fill="url(#g103)"/>
<rect x="264" y="2228" width="937" height="6" fill="url(#g104)"/>
<rect x="264" y="2234" width="937" height="6" fill="url(#g105)"/>
<rect x="264" y="2240" width="937" height="6" fill="url(#g106)"/>
<rect x="264" y="2246" width="937" height="6" fill="url(#g107)"/>
<rect x="264" y="2252" width="937" height="6" fill="url(#g108)"/>
<rect x="264" y="2258" width="937" height="6" fill="url(#g109)"/>
<rect x="264" y="2264" width="937" height="6" fill="url(#g110)"/>
<rect x="264" y="2270" width="937" height="6" fill="url(#g111)"/>
<rect x="264" y="2276" width="937" height="6" fill="url(#g112)"/>
<rect x="264" y="2282" width="937" height="6" fill="url(#g113)"/>
<rect x="264" y="2288" width="937" height="6" fill="url(#g114)"/>
<rect x="264" y="2294" width="937" height="6" fill="url(#g115)"/>
<rect x="264" y="2300" width="937" height="6" fill="url(#g116)"/>
<rect x="264" y="2306" width="937" height="6" fill="url(#g117)"/>
<rect x="264" y="2312" width="937" height="6" fill="url(#g118)"/>
<rect x="264" y="2318" width="937" height="6" fill="url(#g119)"/>
<rect x="264" y="2324" width="937" height="6" fill="url(#g120)"/>
<rect x="264" y="2330" width="937" height="6" fill="url(#g121)"/>
<rect x="264" y="2336" width="937" height="6" fill="url(#g122)"/>
<rect x="264" y="2342" width="937" height="6" fill="url(#g123)"/>
<rect x="264" y="2348" width="937" height="6" fill="url(#g124)"/>
<rect x="264" y="2354" width="937" height="6" fill="url(#g125)"/>
<rect x="264" y="2360" width="937" height="6" fill="url(#g126)"/>
<rect x="264" y="2366" width="937" height="6" fill="url(#g127)"/>
<rect x="264" y="2372" width="937" height="6" fill="url(#g128)"/>
<rect x="264" y="2378" width="937" height="6" fill="url(#g129)"/>
<rect x="264" y="2384" width="937" height="6" fill="url(#g130)"/>
<rect x="264" y="2390" width="937" height="6" fill="url(#g131)"/>
<rect x="264" y="2396" width="937" height="6" fill="url(#g132)"/>
<rect x="264" y="2402" width="937" height="6" fill="url(#g133)"/>
<rect x="264" y="2408" width="937" height="6" fill="url(#g134)"/>
<rect x="264" y="2414" width="937" height="6" fill="url(#g135)"/>
<rect x="264" y="2420" width="937" height="6" fill="url(#g136)"/>
<rect x="264" y="2426" width="937" height="6" fill="url(#g137)"/>
<rect x="264" y="2432" width="937" height="6" fill="url(#g138)"/>
<rect x="264" y="2438" width="937" height="6" fill="url(#g139)"/>
<rect x="264" y="2444" width="937" height="6" fill="url(#g140)"/>
<rect x="264" y="2450" width="937" height="6" fill="url(#g141)"/>
<rect x="264" y="2456" width="937" height="6" fill="url(#g142)"/>
<rect x="264" y="2462" width="937" height="6" fill="url(#g143)"/>
<rect x="264" y="2468" width="937" height="6" fill="url(#g144)"/>
<rect x="264" y="2474" width="937" height="6" fill="url(#g145)"/>
<rect x="264" y="2480" width="937" height="6" fill="url(#g146)"/>
<rect x="264" y="2486" width="937" height="6" fill="url(#g147)"/>
<rect x="264" y="2492" width="937" height="6" fill="url(#g148)"/>
<rect x="264" y="2498" width="937" height="6" fill="url(#g149)"/>
</g>
<g id="axes-b" shape-rendering="crispEdges">
<rect x="262" y="1602" width="5" height="904" fill="#000"/>
<rect x="1199" y="1602" width="4" height="904" fill="#000"/>
<rect x="262" y="1602" width="941" height="5" fill="#000"/>
<rect x="262" y="2501" width="941" height="5" fill="#000"/>
<rect x="262" y="2505" width="5" height="15.5" fill="#000"/>
<rect x="379.15" y="2505" width="4.5" height="6.5" fill="#000"/>
<rect x="495.9" y="2505" width="5" height="15.5" fill="#000"/>
<rect x="613.15" y="2505" width="4.5" height="6.5" fill="#000"/>
<rect x="729.9" y="2505" width="5" height="15.5" fill="#000"/>
<rect x="847.15" y="2505" width="4.5" height="6.5" fill="#000"/>
<rect x="963.9" y="2505" width="5" height="15.5" fill="#000"/>
<rect x="1081.15" y="2505" width="4.5" height="6.5" fill="#000"/>
<rect x="1199" y="2505" width="4" height="15.5" fill="#000"/>
<rect x="247" y="2501" width="16" height="5" fill="#000"/>
<rect x="256" y="2388.85" width="7" height="4.5" fill="#000"/>
<rect x="247" y="2276.1" width="16" height="5" fill="#000"/>
<rect x="256" y="2163.85" width="7" height="4.5" fill="#000"/>
<rect x="247" y="2051.1" width="16" height="5" fill="#000"/>
<rect x="256" y="1938.85" width="7" height="4.5" fill="#000"/>
<rect x="247" y="1826.1" width="16" height="5" fill="#000"/>
<rect x="256" y="1713.85" width="7" height="4.5" fill="#000"/>
<rect x="247" y="1602" width="16" height="5" fill="#000"/>
</g>
<text x="0" y="0" font-size="58.3" text-anchor="middle" font-family='"Liberation Sans", sans-serif' transform="translate(264.4 2579) scale(1 1.025)" stroke="#000" stroke-width="0.76" stroke-linejoin="round">0</text>
<text x="0" y="0" font-size="58.3" text-anchor="end" font-family='"Liberation Sans", sans-serif' transform="translate(234.7 2521) scale(1 1.025)" stroke="#000" stroke-width="0.76" stroke-linejoin="round">20</text>
<text x="0" y="0" font-size="58.3" text-anchor="middle" font-family='"Liberation Sans", sans-serif' transform="translate(498.4 2579) scale(1 1.025)" stroke="#000" stroke-width="0.76" stroke-linejoin="round">20</text>
<text x="0" y="0" font-size="58.3" text-anchor="end" font-family='"Liberation Sans", sans-serif' transform="translate(234.7 2296) scale(1 1.025)" stroke="#000" stroke-width="0.76" stroke-linejoin="round">25</text>
<text x="0" y="0" font-size="58.3" text-anchor="middle" font-family='"Liberation Sans", sans-serif' transform="translate(732.4 2579) scale(1 1.025)" stroke="#000" stroke-width="0.76" stroke-linejoin="round">40</text>
<text x="0" y="0" font-size="58.3" text-anchor="end" font-family='"Liberation Sans", sans-serif' transform="translate(234.7 2071) scale(1 1.025)" stroke="#000" stroke-width="0.76" stroke-linejoin="round">30</text>
<text x="0" y="0" font-size="58.3" text-anchor="middle" font-family='"Liberation Sans", sans-serif' transform="translate(966.4 2579) scale(1 1.025)" stroke="#000" stroke-width="0.76" stroke-linejoin="round">60</text>
<text x="0" y="0" font-size="58.3" text-anchor="end" font-family='"Liberation Sans", sans-serif' transform="translate(234.7 1846) scale(1 1.025)" stroke="#000" stroke-width="0.76" stroke-linejoin="round">35</text>
<text x="0" y="0" font-size="58.3" text-anchor="middle" font-family='"Liberation Sans", sans-serif' transform="translate(1200.4 2579) scale(1 1.025)" stroke="#000" stroke-width="0.76" stroke-linejoin="round">80</text>
<text x="0" y="0" font-size="58.3" text-anchor="end" font-family='"Liberation Sans", sans-serif' transform="translate(234.7 1621) scale(1 1.025)" stroke="#000" stroke-width="0.76" stroke-linejoin="round">40</text>
<text x="732.5" y="2677" font-size="63.6" text-anchor="middle" font-family='"Liberation Sans", sans-serif' stroke="#000" stroke-width="0.83" stroke-linejoin="round">Distance</text>
<g transform="translate(118.7 2127) rotate(-90)" font-family='"Liberation Sans", sans-serif' stroke="#000" stroke-linejoin="round">
<text x="0" y="0" font-size="74" transform="scale(1 1.018)" stroke-width="0.96">X</text>
<text font-size="48.8" transform="translate(49 -29.2) scale(1 1.065)" stroke-width="0.63">Bsat</text>
<text font-size="48.8" transform="translate(48 20.2) scale(1 1.065)" stroke-width="0.63">sat</text>
</g>
<g id="colorbar">
<rect x="1345.1" y="1604.5" width="135.6" height="898.6" fill="url(#cb)" stroke="#000" stroke-width="3" shape-rendering="crispEdges"/>
<g shape-rendering="crispEdges">
<rect x="1480.7" y="2498.1" width="17" height="3" fill="#000"/>
<rect x="1480.7" y="2320.42" width="17" height="3" fill="#000"/>
<rect x="1480.7" y="2142.74" width="17" height="3" fill="#000"/>
<rect x="1480.7" y="1965.06" width="17" height="3" fill="#000"/>
<rect x="1480.7" y="1787.38" width="17" height="3" fill="#000"/>
<rect x="1480.7" y="1609.7" width="17" height="3" fill="#000"/>
</g>
<text x="0" y="0" font-size="55.6" text-anchor="start" font-family='"Liberation Sans", sans-serif' transform="translate(1516.7 2517.6) scale(1 0.97)" stroke="#000" stroke-width="0.72" stroke-linejoin="round">0.0</text>
<text x="0" y="0" font-size="55.6" text-anchor="start" font-family='"Liberation Sans", sans-serif' transform="translate(1516.7 2339.92) scale(1 0.97)" stroke="#000" stroke-width="0.72" stroke-linejoin="round">0.2</text>
<text x="0" y="0" font-size="55.6" text-anchor="start" font-family='"Liberation Sans", sans-serif' transform="translate(1516.7 2162.24) scale(1 0.97)" stroke="#000" stroke-width="0.72" stroke-linejoin="round">0.4</text>
<text x="0" y="0" font-size="55.6" text-anchor="start" font-family='"Liberation Sans", sans-serif' transform="translate(1516.7 1984.56) scale(1 0.97)" stroke="#000" stroke-width="0.72" stroke-linejoin="round">0.6</text>
<text x="0" y="0" font-size="55.6" text-anchor="start" font-family='"Liberation Sans", sans-serif' transform="translate(1516.7 1806.88) scale(1 0.97)" stroke="#000" stroke-width="0.72" stroke-linejoin="round">0.8</text>
<text x="0" y="0" font-size="55.6" text-anchor="start" font-family='"Liberation Sans", sans-serif' transform="translate(1516.7 1629.2) scale(1 0.97)" stroke="#000" stroke-width="0.72" stroke-linejoin="round">1.0</text>
<text x="0" y="0" font-size="47.6" text-anchor="middle" font-family='"Liberation Sans", sans-serif' transform="translate(1412.2 1572) scale(1 1.04)" stroke="#000" stroke-width="0.62" stroke-linejoin="round">T</text>
</g>
<g class="caption"><text x="0" y="0" font-size="86.5" text-anchor="start" font-family='"Liberation Serif", serif' transform="translate(848.3 2784.2) scale(0.88 1)">(</text><text x="0" y="0" font-size="84.5" text-anchor="middle" font-family='"Liberation Serif", serif' transform="translate(898.5 2783.8) scale(1.055 1)" font-weight="bold">b</text><text x="0" y="0" font-size="86.5" text-anchor="end" font-family='"Liberation Serif", serif' transform="translate(952 2784.2) scale(0.88 1)">)</text></g>
</g>
</svg>
</body>
</html>
